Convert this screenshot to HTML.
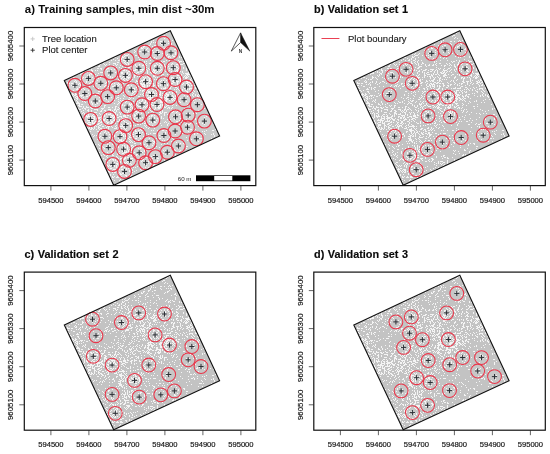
<!DOCTYPE html>
<html lang="en"><head><meta charset="utf-8"><title>Sampling design</title>
<style>
html,body{margin:0;padding:0;background:#fff}
svg{display:block;filter:blur(0.35px)}
text{font-family:"Liberation Sans",sans-serif}
.ax{font-size:7.6px;fill:#151515;stroke:#151515;stroke-width:0.18px}
.ay{font-size:7.85px;fill:#151515;stroke:#151515;stroke-width:0.18px}
.tt{font-size:10.6px;font-weight:bold;fill:#0a0a0a;stroke:#0a0a0a;stroke-width:0.15px;word-spacing:0.5px}
.ta{font-size:11.45px;font-weight:bold;fill:#0a0a0a}
.lg{font-size:9.5px;fill:#151515;stroke:#151515;stroke-width:0.1px}
</style></head><body>
<svg width="550" height="454" viewBox="0 0 550 454">
<rect width="550" height="454" fill="#fff"/>
<defs>
<filter id="sb" x="0" y="0" width="100%" height="100%"><feGaussianBlur stdDeviation="0.7"/></filter>
<g id="trees">
<path d="M167 30h1v1h-1zM168 31h1v1h-1zM169 31h1v1h-1zM162 32h1v1h-1zM163 32h1v1h-1zM167 32h1v1h-1zM166 33h1v1h-1zM172 33h1v1h-1zM160 34h1v1h-1zM163 35h1v1h-1zM164 35h1v1h-1zM162 36h1v1h-1zM153 37h1v1h-1zM154 37h1v1h-1zM165 37h1v1h-1zM149 38h1v1h-1zM153 38h1v1h-1zM164 38h1v1h-1zM167 38h1v1h-1zM148 39h1v1h-1zM176 39h1v1h-1zM145 40h1v1h-1zM146 40h1v1h-1zM150 40h1v1h-1zM153 40h1v1h-1zM169 40h1v1h-1zM172 40h1v1h-1zM176 40h1v1h-1zM146 41h1v1h-1zM148 41h1v1h-1zM151 41h1v1h-1zM160 41h1v1h-1zM161 41h1v1h-1zM164 41h1v1h-1zM168 41h1v1h-1zM170 41h1v1h-1zM142 42h1v1h-1zM143 42h1v1h-1zM144 42h1v1h-1zM145 42h1v1h-1zM151 42h1v1h-1zM153 42h1v1h-1zM155 42h1v1h-1zM176 42h1v1h-1zM138 43h1v1h-1zM142 43h1v1h-1zM150 43h1v1h-1zM160 43h1v1h-1zM166 43h1v1h-1zM168 43h1v1h-1zM170 43h1v1h-1zM171 43h1v1h-1zM144 44h1v1h-1zM150 44h1v1h-1zM161 44h1v1h-1zM171 44h1v1h-1zM177 44h1v1h-1zM135 45h1v1h-1zM148 45h1v1h-1zM149 45h1v1h-1zM154 45h1v1h-1zM155 45h1v1h-1zM169 45h1v1h-1zM143 46h1v1h-1zM144 46h1v1h-1zM148 46h1v1h-1zM152 46h1v1h-1zM167 46h1v1h-1zM168 46h1v1h-1zM135 47h1v1h-1zM141 47h1v1h-1zM143 47h1v1h-1zM165 47h1v1h-1zM167 47h1v1h-1zM178 47h1v1h-1zM141 48h1v1h-1zM142 48h1v1h-1zM147 48h1v1h-1zM154 48h1v1h-1zM164 48h1v1h-1zM175 48h1v1h-1zM126 49h1v1h-1zM138 49h1v1h-1zM146 49h1v1h-1zM174 49h1v1h-1zM175 49h1v1h-1zM128 50h1v1h-1zM134 50h1v1h-1zM145 50h1v1h-1zM152 50h1v1h-1zM156 50h1v1h-1zM157 50h1v1h-1zM158 50h1v1h-1zM171 50h1v1h-1zM176 50h1v1h-1zM135 51h1v1h-1zM139 51h1v1h-1zM140 51h1v1h-1zM147 51h1v1h-1zM148 51h1v1h-1zM179 51h1v1h-1zM121 52h1v1h-1zM123 52h1v1h-1zM134 52h1v1h-1zM145 52h1v1h-1zM153 52h1v1h-1zM158 52h1v1h-1zM175 52h1v1h-1zM117 53h1v1h-1zM121 53h1v1h-1zM125 53h1v1h-1zM129 53h1v1h-1zM138 53h1v1h-1zM159 53h1v1h-1zM162 53h1v1h-1zM175 53h1v1h-1zM116 54h1v1h-1zM117 54h1v1h-1zM119 54h1v1h-1zM122 54h1v1h-1zM124 54h1v1h-1zM128 54h1v1h-1zM145 54h1v1h-1zM159 54h1v1h-1zM167 54h1v1h-1zM175 54h1v1h-1zM115 55h1v1h-1zM117 55h1v1h-1zM125 55h1v1h-1zM126 55h1v1h-1zM127 55h1v1h-1zM132 55h1v1h-1zM135 55h1v1h-1zM136 55h1v1h-1zM138 55h1v1h-1zM150 55h1v1h-1zM156 55h1v1h-1zM166 55h1v1h-1zM170 55h1v1h-1zM172 55h1v1h-1zM111 56h1v1h-1zM115 56h1v1h-1zM122 56h1v1h-1zM124 56h1v1h-1zM140 56h1v1h-1zM165 56h1v1h-1zM168 56h1v1h-1zM169 56h1v1h-1zM173 56h1v1h-1zM174 56h1v1h-1zM179 56h1v1h-1zM108 57h1v1h-1zM112 57h1v1h-1zM113 57h1v1h-1zM114 57h1v1h-1zM115 57h1v1h-1zM122 57h1v1h-1zM123 57h1v1h-1zM128 57h1v1h-1zM138 57h1v1h-1zM147 57h1v1h-1zM150 57h1v1h-1zM154 57h1v1h-1zM168 57h1v1h-1zM170 57h1v1h-1zM179 57h1v1h-1zM181 57h1v1h-1zM117 58h1v1h-1zM121 58h1v1h-1zM125 58h1v1h-1zM143 58h1v1h-1zM145 58h1v1h-1zM153 58h1v1h-1zM156 58h1v1h-1zM183 58h1v1h-1zM113 59h1v1h-1zM119 59h1v1h-1zM121 59h1v1h-1zM125 59h1v1h-1zM139 59h1v1h-1zM142 59h1v1h-1zM145 59h1v1h-1zM174 59h1v1h-1zM183 59h1v1h-1zM111 60h1v1h-1zM115 60h1v1h-1zM118 60h1v1h-1zM119 60h1v1h-1zM123 60h1v1h-1zM124 60h1v1h-1zM128 60h1v1h-1zM131 60h1v1h-1zM150 60h1v1h-1zM157 60h1v1h-1zM166 60h1v1h-1zM169 60h1v1h-1zM178 60h1v1h-1zM121 61h1v1h-1zM125 61h1v1h-1zM127 61h1v1h-1zM144 61h1v1h-1zM146 61h1v1h-1zM161 61h1v1h-1zM163 61h1v1h-1zM164 61h1v1h-1zM169 61h1v1h-1zM176 61h1v1h-1zM179 61h1v1h-1zM180 61h1v1h-1zM181 61h1v1h-1zM183 61h1v1h-1zM185 61h1v1h-1zM98 62h1v1h-1zM99 62h1v1h-1zM104 62h1v1h-1zM109 62h1v1h-1zM117 62h1v1h-1zM118 62h1v1h-1zM121 62h1v1h-1zM124 62h1v1h-1zM127 62h1v1h-1zM132 62h1v1h-1zM144 62h1v1h-1zM162 62h1v1h-1zM168 62h1v1h-1zM179 62h1v1h-1zM103 63h1v1h-1zM113 63h1v1h-1zM114 63h1v1h-1zM115 63h1v1h-1zM121 63h1v1h-1zM122 63h1v1h-1zM125 63h1v1h-1zM128 63h1v1h-1zM132 63h1v1h-1zM133 63h1v1h-1zM146 63h1v1h-1zM149 63h1v1h-1zM150 63h1v1h-1zM156 63h1v1h-1zM159 63h1v1h-1zM168 63h1v1h-1zM172 63h1v1h-1zM178 63h1v1h-1zM183 63h1v1h-1zM184 63h1v1h-1zM97 64h1v1h-1zM100 64h1v1h-1zM104 64h1v1h-1zM106 64h1v1h-1zM109 64h1v1h-1zM115 64h1v1h-1zM117 64h1v1h-1zM126 64h1v1h-1zM128 64h1v1h-1zM131 64h1v1h-1zM135 64h1v1h-1zM139 64h1v1h-1zM143 64h1v1h-1zM145 64h1v1h-1zM157 64h1v1h-1zM160 64h1v1h-1zM164 64h1v1h-1zM167 64h1v1h-1zM168 64h1v1h-1zM171 64h1v1h-1zM176 64h1v1h-1zM177 64h1v1h-1zM180 64h1v1h-1zM181 64h1v1h-1zM182 64h1v1h-1zM94 65h1v1h-1zM95 65h1v1h-1zM99 65h1v1h-1zM105 65h1v1h-1zM113 65h1v1h-1zM116 65h1v1h-1zM120 65h1v1h-1zM128 65h1v1h-1zM135 65h1v1h-1zM138 65h1v1h-1zM139 65h1v1h-1zM142 65h1v1h-1zM143 65h1v1h-1zM146 65h1v1h-1zM151 65h1v1h-1zM154 65h1v1h-1zM155 65h1v1h-1zM159 65h1v1h-1zM161 65h1v1h-1zM164 65h1v1h-1zM167 65h1v1h-1zM186 65h1v1h-1zM90 66h1v1h-1zM95 66h1v1h-1zM98 66h1v1h-1zM99 66h1v1h-1zM107 66h1v1h-1zM122 66h1v1h-1zM129 66h1v1h-1zM130 66h1v1h-1zM131 66h1v1h-1zM136 66h1v1h-1zM154 66h1v1h-1zM164 66h1v1h-1zM165 66h1v1h-1zM168 66h1v1h-1zM172 66h1v1h-1zM176 66h1v1h-1zM89 67h1v1h-1zM91 67h1v1h-1zM116 67h1v1h-1zM119 67h1v1h-1zM125 67h1v1h-1zM128 67h1v1h-1zM129 67h1v1h-1zM146 67h1v1h-1zM160 67h1v1h-1zM165 67h1v1h-1zM172 67h1v1h-1zM176 67h1v1h-1zM177 67h1v1h-1zM183 67h1v1h-1zM188 67h1v1h-1zM88 68h1v1h-1zM91 68h1v1h-1zM97 68h1v1h-1zM98 68h1v1h-1zM100 68h1v1h-1zM101 68h1v1h-1zM107 68h1v1h-1zM108 68h1v1h-1zM115 68h1v1h-1zM121 68h1v1h-1zM127 68h1v1h-1zM128 68h1v1h-1zM148 68h1v1h-1zM150 68h1v1h-1zM154 68h1v1h-1zM158 68h1v1h-1zM159 68h1v1h-1zM166 68h1v1h-1zM169 68h1v1h-1zM171 68h1v1h-1zM174 68h1v1h-1zM178 68h1v1h-1zM183 68h1v1h-1zM186 68h1v1h-1zM188 68h1v1h-1zM83 69h1v1h-1zM86 69h1v1h-1zM87 69h1v1h-1zM89 69h1v1h-1zM91 69h1v1h-1zM101 69h1v1h-1zM106 69h1v1h-1zM111 69h1v1h-1zM114 69h1v1h-1zM122 69h1v1h-1zM124 69h1v1h-1zM131 69h1v1h-1zM135 69h1v1h-1zM136 69h1v1h-1zM140 69h1v1h-1zM141 69h1v1h-1zM142 69h1v1h-1zM143 69h1v1h-1zM146 69h1v1h-1zM149 69h1v1h-1zM153 69h1v1h-1zM157 69h1v1h-1zM161 69h1v1h-1zM164 69h1v1h-1zM166 69h1v1h-1zM171 69h1v1h-1zM177 69h1v1h-1zM186 69h1v1h-1zM81 70h1v1h-1zM83 70h1v1h-1zM86 70h1v1h-1zM91 70h1v1h-1zM92 70h1v1h-1zM95 70h1v1h-1zM97 70h1v1h-1zM120 70h1v1h-1zM123 70h1v1h-1zM124 70h1v1h-1zM126 70h1v1h-1zM129 70h1v1h-1zM133 70h1v1h-1zM134 70h1v1h-1zM135 70h1v1h-1zM138 70h1v1h-1zM142 70h1v1h-1zM145 70h1v1h-1zM147 70h1v1h-1zM153 70h1v1h-1zM154 70h1v1h-1zM155 70h1v1h-1zM156 70h1v1h-1zM160 70h1v1h-1zM164 70h1v1h-1zM169 70h1v1h-1zM176 70h1v1h-1zM177 70h1v1h-1zM186 70h1v1h-1zM189 70h1v1h-1zM79 71h1v1h-1zM82 71h1v1h-1zM83 71h1v1h-1zM85 71h1v1h-1zM87 71h1v1h-1zM92 71h1v1h-1zM107 71h1v1h-1zM117 71h1v1h-1zM128 71h1v1h-1zM129 71h1v1h-1zM132 71h1v1h-1zM140 71h1v1h-1zM141 71h1v1h-1zM144 71h1v1h-1zM147 71h1v1h-1zM152 71h1v1h-1zM154 71h1v1h-1zM157 71h1v1h-1zM159 71h1v1h-1zM165 71h1v1h-1zM168 71h1v1h-1zM171 71h1v1h-1zM175 71h1v1h-1zM177 71h1v1h-1zM178 71h1v1h-1zM180 71h1v1h-1zM182 71h1v1h-1zM76 72h1v1h-1zM82 72h1v1h-1zM83 72h1v1h-1zM87 72h1v1h-1zM89 72h1v1h-1zM92 72h1v1h-1zM100 72h1v1h-1zM101 72h1v1h-1zM102 72h1v1h-1zM115 72h1v1h-1zM117 72h1v1h-1zM121 72h1v1h-1zM122 72h1v1h-1zM127 72h1v1h-1zM132 72h1v1h-1zM134 72h1v1h-1zM137 72h1v1h-1zM138 72h1v1h-1zM144 72h1v1h-1zM147 72h1v1h-1zM150 72h1v1h-1zM151 72h1v1h-1zM153 72h1v1h-1zM154 72h1v1h-1zM156 72h1v1h-1zM161 72h1v1h-1zM182 72h1v1h-1zM188 72h1v1h-1zM189 72h1v1h-1zM191 72h1v1h-1zM74 73h1v1h-1zM79 73h1v1h-1zM80 73h1v1h-1zM81 73h1v1h-1zM82 73h1v1h-1zM83 73h1v1h-1zM90 73h1v1h-1zM91 73h1v1h-1zM98 73h1v1h-1zM103 73h1v1h-1zM117 73h1v1h-1zM121 73h1v1h-1zM122 73h1v1h-1zM127 73h1v1h-1zM134 73h1v1h-1zM136 73h1v1h-1zM143 73h1v1h-1zM147 73h1v1h-1zM151 73h1v1h-1zM152 73h1v1h-1zM153 73h1v1h-1zM155 73h1v1h-1zM176 73h1v1h-1zM177 73h1v1h-1zM183 73h1v1h-1zM185 73h1v1h-1zM186 73h1v1h-1zM187 73h1v1h-1zM188 73h1v1h-1zM191 73h1v1h-1zM73 74h1v1h-1zM74 74h1v1h-1zM77 74h1v1h-1zM78 74h1v1h-1zM80 74h1v1h-1zM89 74h1v1h-1zM91 74h1v1h-1zM95 74h1v1h-1zM123 74h1v1h-1zM129 74h1v1h-1zM134 74h1v1h-1zM137 74h1v1h-1zM138 74h1v1h-1zM139 74h1v1h-1zM141 74h1v1h-1zM143 74h1v1h-1zM145 74h1v1h-1zM146 74h1v1h-1zM148 74h1v1h-1zM154 74h1v1h-1zM155 74h1v1h-1zM158 74h1v1h-1zM162 74h1v1h-1zM163 74h1v1h-1zM167 74h1v1h-1zM169 74h1v1h-1zM171 74h1v1h-1zM173 74h1v1h-1zM176 74h1v1h-1zM181 74h1v1h-1zM186 74h1v1h-1zM187 74h1v1h-1zM188 74h1v1h-1zM189 74h1v1h-1zM71 75h1v1h-1zM87 75h1v1h-1zM89 75h1v1h-1zM97 75h1v1h-1zM101 75h1v1h-1zM108 75h1v1h-1zM126 75h1v1h-1zM128 75h1v1h-1zM134 75h1v1h-1zM135 75h1v1h-1zM141 75h1v1h-1zM142 75h1v1h-1zM149 75h1v1h-1zM153 75h1v1h-1zM154 75h1v1h-1zM155 75h1v1h-1zM156 75h1v1h-1zM161 75h1v1h-1zM169 75h1v1h-1zM173 75h1v1h-1zM177 75h1v1h-1zM178 75h1v1h-1zM180 75h1v1h-1zM181 75h1v1h-1zM185 75h1v1h-1zM187 75h1v1h-1zM190 75h1v1h-1zM70 76h1v1h-1zM82 76h1v1h-1zM88 76h1v1h-1zM95 76h1v1h-1zM110 76h1v1h-1zM115 76h1v1h-1zM117 76h1v1h-1zM119 76h1v1h-1zM120 76h1v1h-1zM123 76h1v1h-1zM127 76h1v1h-1zM134 76h1v1h-1zM137 76h1v1h-1zM139 76h1v1h-1zM140 76h1v1h-1zM142 76h1v1h-1zM147 76h1v1h-1zM153 76h1v1h-1zM154 76h1v1h-1zM165 76h1v1h-1zM181 76h1v1h-1zM184 76h1v1h-1zM186 76h1v1h-1zM188 76h1v1h-1zM73 77h1v1h-1zM74 77h1v1h-1zM82 77h1v1h-1zM83 77h1v1h-1zM85 77h1v1h-1zM92 77h1v1h-1zM100 77h1v1h-1zM105 77h1v1h-1zM110 77h1v1h-1zM112 77h1v1h-1zM122 77h1v1h-1zM127 77h1v1h-1zM128 77h1v1h-1zM129 77h1v1h-1zM132 77h1v1h-1zM134 77h1v1h-1zM140 77h1v1h-1zM143 77h1v1h-1zM145 77h1v1h-1zM148 77h1v1h-1zM150 77h1v1h-1zM155 77h1v1h-1zM157 77h1v1h-1zM159 77h1v1h-1zM164 77h1v1h-1zM165 77h1v1h-1zM171 77h1v1h-1zM172 77h1v1h-1zM174 77h1v1h-1zM177 77h1v1h-1zM179 77h1v1h-1zM183 77h1v1h-1zM185 77h1v1h-1zM186 77h1v1h-1zM187 77h1v1h-1zM191 77h1v1h-1zM71 78h1v1h-1zM76 78h1v1h-1zM82 78h1v1h-1zM86 78h1v1h-1zM94 78h1v1h-1zM98 78h1v1h-1zM121 78h1v1h-1zM124 78h1v1h-1zM128 78h1v1h-1zM140 78h1v1h-1zM144 78h1v1h-1zM149 78h1v1h-1zM150 78h1v1h-1zM164 78h1v1h-1zM171 78h1v1h-1zM173 78h1v1h-1zM174 78h1v1h-1zM180 78h1v1h-1zM185 78h1v1h-1zM186 78h1v1h-1zM191 78h1v1h-1zM193 78h1v1h-1zM78 79h1v1h-1zM80 79h1v1h-1zM81 79h1v1h-1zM87 79h1v1h-1zM95 79h1v1h-1zM109 79h1v1h-1zM118 79h1v1h-1zM120 79h1v1h-1zM123 79h1v1h-1zM126 79h1v1h-1zM130 79h1v1h-1zM132 79h1v1h-1zM143 79h1v1h-1zM144 79h1v1h-1zM149 79h1v1h-1zM152 79h1v1h-1zM154 79h1v1h-1zM156 79h1v1h-1zM167 79h1v1h-1zM173 79h1v1h-1zM180 79h1v1h-1zM190 79h1v1h-1zM192 79h1v1h-1zM194 79h1v1h-1zM69 80h1v1h-1zM75 80h1v1h-1zM97 80h1v1h-1zM119 80h1v1h-1zM124 80h1v1h-1zM127 80h1v1h-1zM128 80h1v1h-1zM129 80h1v1h-1zM130 80h1v1h-1zM136 80h1v1h-1zM139 80h1v1h-1zM141 80h1v1h-1zM142 80h1v1h-1zM143 80h1v1h-1zM147 80h1v1h-1zM149 80h1v1h-1zM150 80h1v1h-1zM161 80h1v1h-1zM163 80h1v1h-1zM166 80h1v1h-1zM173 80h1v1h-1zM180 80h1v1h-1zM182 80h1v1h-1zM188 80h1v1h-1zM190 80h1v1h-1zM191 80h1v1h-1zM195 80h1v1h-1zM74 81h1v1h-1zM76 81h1v1h-1zM82 81h1v1h-1zM86 81h1v1h-1zM92 81h1v1h-1zM93 81h1v1h-1zM108 81h1v1h-1zM118 81h1v1h-1zM119 81h1v1h-1zM123 81h1v1h-1zM127 81h1v1h-1zM130 81h1v1h-1zM136 81h1v1h-1zM137 81h1v1h-1zM140 81h1v1h-1zM142 81h1v1h-1zM143 81h1v1h-1zM149 81h1v1h-1zM151 81h1v1h-1zM160 81h1v1h-1zM163 81h1v1h-1zM172 81h1v1h-1zM173 81h1v1h-1zM176 81h1v1h-1zM177 81h1v1h-1zM178 81h1v1h-1zM180 81h1v1h-1zM186 81h1v1h-1zM187 81h1v1h-1zM189 81h1v1h-1zM192 81h1v1h-1zM194 81h1v1h-1zM63 82h1v1h-1zM67 82h1v1h-1zM75 82h1v1h-1zM76 82h1v1h-1zM80 82h1v1h-1zM82 82h1v1h-1zM86 82h1v1h-1zM90 82h1v1h-1zM94 82h1v1h-1zM106 82h1v1h-1zM107 82h1v1h-1zM122 82h1v1h-1zM127 82h1v1h-1zM131 82h1v1h-1zM132 82h1v1h-1zM135 82h1v1h-1zM144 82h1v1h-1zM145 82h1v1h-1zM147 82h1v1h-1zM148 82h1v1h-1zM157 82h1v1h-1zM164 82h1v1h-1zM173 82h1v1h-1zM174 82h1v1h-1zM177 82h1v1h-1zM181 82h1v1h-1zM187 82h1v1h-1zM188 82h1v1h-1zM189 82h1v1h-1zM191 82h1v1h-1zM192 82h1v1h-1zM67 83h1v1h-1zM68 83h1v1h-1zM69 83h1v1h-1zM71 83h1v1h-1zM72 83h1v1h-1zM79 83h1v1h-1zM85 83h1v1h-1zM89 83h1v1h-1zM96 83h1v1h-1zM105 83h1v1h-1zM111 83h1v1h-1zM112 83h1v1h-1zM114 83h1v1h-1zM118 83h1v1h-1zM123 83h1v1h-1zM129 83h1v1h-1zM130 83h1v1h-1zM131 83h1v1h-1zM137 83h1v1h-1zM140 83h1v1h-1zM141 83h1v1h-1zM143 83h1v1h-1zM146 83h1v1h-1zM147 83h1v1h-1zM149 83h1v1h-1zM150 83h1v1h-1zM152 83h1v1h-1zM153 83h1v1h-1zM158 83h1v1h-1zM165 83h1v1h-1zM169 83h1v1h-1zM171 83h1v1h-1zM172 83h1v1h-1zM177 83h1v1h-1zM180 83h1v1h-1zM183 83h1v1h-1zM186 83h1v1h-1zM187 83h1v1h-1zM190 83h1v1h-1zM194 83h1v1h-1zM76 84h1v1h-1zM78 84h1v1h-1zM80 84h1v1h-1zM87 84h1v1h-1zM107 84h1v1h-1zM111 84h1v1h-1zM117 84h1v1h-1zM119 84h1v1h-1zM121 84h1v1h-1zM122 84h1v1h-1zM126 84h1v1h-1zM127 84h1v1h-1zM128 84h1v1h-1zM136 84h1v1h-1zM139 84h1v1h-1zM141 84h1v1h-1zM142 84h1v1h-1zM143 84h1v1h-1zM144 84h1v1h-1zM153 84h1v1h-1zM160 84h1v1h-1zM161 84h1v1h-1zM164 84h1v1h-1zM167 84h1v1h-1zM171 84h1v1h-1zM177 84h1v1h-1zM182 84h1v1h-1zM188 84h1v1h-1zM192 84h1v1h-1zM197 84h1v1h-1zM67 85h1v1h-1zM68 85h1v1h-1zM71 85h1v1h-1zM80 85h1v1h-1zM101 85h1v1h-1zM105 85h1v1h-1zM106 85h1v1h-1zM109 85h1v1h-1zM114 85h1v1h-1zM115 85h1v1h-1zM118 85h1v1h-1zM125 85h1v1h-1zM126 85h1v1h-1zM127 85h1v1h-1zM128 85h1v1h-1zM131 85h1v1h-1zM136 85h1v1h-1zM139 85h1v1h-1zM140 85h1v1h-1zM142 85h1v1h-1zM144 85h1v1h-1zM147 85h1v1h-1zM149 85h1v1h-1zM153 85h1v1h-1zM154 85h1v1h-1zM157 85h1v1h-1zM158 85h1v1h-1zM160 85h1v1h-1zM167 85h1v1h-1zM169 85h1v1h-1zM175 85h1v1h-1zM179 85h1v1h-1zM189 85h1v1h-1zM191 85h1v1h-1zM192 85h1v1h-1zM194 85h1v1h-1zM66 86h1v1h-1zM73 86h1v1h-1zM74 86h1v1h-1zM89 86h1v1h-1zM93 86h1v1h-1zM100 86h1v1h-1zM104 86h1v1h-1zM106 86h1v1h-1zM108 86h1v1h-1zM112 86h1v1h-1zM113 86h1v1h-1zM122 86h1v1h-1zM125 86h1v1h-1zM137 86h1v1h-1zM138 86h1v1h-1zM140 86h1v1h-1zM142 86h1v1h-1zM143 86h1v1h-1zM144 86h1v1h-1zM147 86h1v1h-1zM149 86h1v1h-1zM150 86h1v1h-1zM153 86h1v1h-1zM158 86h1v1h-1zM171 86h1v1h-1zM172 86h1v1h-1zM189 86h1v1h-1zM197 86h1v1h-1zM68 87h1v1h-1zM79 87h1v1h-1zM81 87h1v1h-1zM84 87h1v1h-1zM85 87h1v1h-1zM116 87h1v1h-1zM121 87h1v1h-1zM129 87h1v1h-1zM136 87h1v1h-1zM140 87h1v1h-1zM144 87h1v1h-1zM149 87h1v1h-1zM156 87h1v1h-1zM157 87h1v1h-1zM165 87h1v1h-1zM170 87h1v1h-1zM175 87h1v1h-1zM176 87h1v1h-1zM183 87h1v1h-1zM186 87h1v1h-1zM195 87h1v1h-1zM198 87h1v1h-1zM66 88h1v1h-1zM69 88h1v1h-1zM77 88h1v1h-1zM81 88h1v1h-1zM83 88h1v1h-1zM98 88h1v1h-1zM110 88h1v1h-1zM123 88h1v1h-1zM133 88h1v1h-1zM134 88h1v1h-1zM137 88h1v1h-1zM141 88h1v1h-1zM143 88h1v1h-1zM148 88h1v1h-1zM149 88h1v1h-1zM152 88h1v1h-1zM161 88h1v1h-1zM163 88h1v1h-1zM164 88h1v1h-1zM165 88h1v1h-1zM167 88h1v1h-1zM168 88h1v1h-1zM169 88h1v1h-1zM170 88h1v1h-1zM177 88h1v1h-1zM180 88h1v1h-1zM184 88h1v1h-1zM189 88h1v1h-1zM190 88h1v1h-1zM191 88h1v1h-1zM192 88h1v1h-1zM195 88h1v1h-1zM196 88h1v1h-1zM197 88h1v1h-1zM76 89h1v1h-1zM77 89h1v1h-1zM78 89h1v1h-1zM81 89h1v1h-1zM84 89h1v1h-1zM101 89h1v1h-1zM105 89h1v1h-1zM129 89h1v1h-1zM134 89h1v1h-1zM137 89h1v1h-1zM144 89h1v1h-1zM146 89h1v1h-1zM147 89h1v1h-1zM148 89h1v1h-1zM152 89h1v1h-1zM155 89h1v1h-1zM158 89h1v1h-1zM174 89h1v1h-1zM176 89h1v1h-1zM178 89h1v1h-1zM182 89h1v1h-1zM187 89h1v1h-1zM189 89h1v1h-1zM192 89h1v1h-1zM199 89h1v1h-1zM67 90h1v1h-1zM69 90h1v1h-1zM70 90h1v1h-1zM73 90h1v1h-1zM88 90h1v1h-1zM122 90h1v1h-1zM124 90h1v1h-1zM140 90h1v1h-1zM142 90h1v1h-1zM143 90h1v1h-1zM145 90h1v1h-1zM147 90h1v1h-1zM155 90h1v1h-1zM156 90h1v1h-1zM161 90h1v1h-1zM166 90h1v1h-1zM167 90h1v1h-1zM168 90h1v1h-1zM170 90h1v1h-1zM172 90h1v1h-1zM179 90h1v1h-1zM182 90h1v1h-1zM185 90h1v1h-1zM193 90h1v1h-1zM199 90h1v1h-1zM67 91h1v1h-1zM68 91h1v1h-1zM71 91h1v1h-1zM77 91h1v1h-1zM78 91h1v1h-1zM85 91h1v1h-1zM98 91h1v1h-1zM99 91h1v1h-1zM101 91h1v1h-1zM115 91h1v1h-1zM116 91h1v1h-1zM121 91h1v1h-1zM124 91h1v1h-1zM128 91h1v1h-1zM132 91h1v1h-1zM134 91h1v1h-1zM135 91h1v1h-1zM137 91h1v1h-1zM138 91h1v1h-1zM142 91h1v1h-1zM144 91h1v1h-1zM148 91h1v1h-1zM149 91h1v1h-1zM153 91h1v1h-1zM156 91h1v1h-1zM160 91h1v1h-1zM164 91h1v1h-1zM166 91h1v1h-1zM171 91h1v1h-1zM174 91h1v1h-1zM176 91h1v1h-1zM186 91h1v1h-1zM187 91h1v1h-1zM191 91h1v1h-1zM194 91h1v1h-1zM197 91h1v1h-1zM198 91h1v1h-1zM69 92h1v1h-1zM78 92h1v1h-1zM123 92h1v1h-1zM125 92h1v1h-1zM133 92h1v1h-1zM146 92h1v1h-1zM148 92h1v1h-1zM149 92h1v1h-1zM150 92h1v1h-1zM153 92h1v1h-1zM157 92h1v1h-1zM160 92h1v1h-1zM165 92h1v1h-1zM166 92h1v1h-1zM169 92h1v1h-1zM172 92h1v1h-1zM175 92h1v1h-1zM176 92h1v1h-1zM187 92h1v1h-1zM192 92h1v1h-1zM198 92h1v1h-1zM69 93h1v1h-1zM72 93h1v1h-1zM75 93h1v1h-1zM79 93h1v1h-1zM88 93h1v1h-1zM93 93h1v1h-1zM96 93h1v1h-1zM97 93h1v1h-1zM98 93h1v1h-1zM118 93h1v1h-1zM121 93h1v1h-1zM132 93h1v1h-1zM137 93h1v1h-1zM143 93h1v1h-1zM144 93h1v1h-1zM150 93h1v1h-1zM151 93h1v1h-1zM154 93h1v1h-1zM156 93h1v1h-1zM158 93h1v1h-1zM160 93h1v1h-1zM162 93h1v1h-1zM165 93h1v1h-1zM166 93h1v1h-1zM172 93h1v1h-1zM182 93h1v1h-1zM184 93h1v1h-1zM193 93h1v1h-1zM69 94h1v1h-1zM70 94h1v1h-1zM71 94h1v1h-1zM72 94h1v1h-1zM73 94h1v1h-1zM75 94h1v1h-1zM76 94h1v1h-1zM90 94h1v1h-1zM114 94h1v1h-1zM125 94h1v1h-1zM134 94h1v1h-1zM140 94h1v1h-1zM142 94h1v1h-1zM144 94h1v1h-1zM149 94h1v1h-1zM151 94h1v1h-1zM159 94h1v1h-1zM160 94h1v1h-1zM163 94h1v1h-1zM164 94h1v1h-1zM166 94h1v1h-1zM167 94h1v1h-1zM168 94h1v1h-1zM170 94h1v1h-1zM176 94h1v1h-1zM178 94h1v1h-1zM179 94h1v1h-1zM192 94h1v1h-1zM195 94h1v1h-1zM198 94h1v1h-1zM201 94h1v1h-1zM69 95h1v1h-1zM70 95h1v1h-1zM71 95h1v1h-1zM72 95h1v1h-1zM74 95h1v1h-1zM75 95h1v1h-1zM80 95h1v1h-1zM81 95h1v1h-1zM82 95h1v1h-1zM84 95h1v1h-1zM89 95h1v1h-1zM95 95h1v1h-1zM114 95h1v1h-1zM118 95h1v1h-1zM123 95h1v1h-1zM131 95h1v1h-1zM136 95h1v1h-1zM143 95h1v1h-1zM145 95h1v1h-1zM147 95h1v1h-1zM150 95h1v1h-1zM154 95h1v1h-1zM156 95h1v1h-1zM160 95h1v1h-1zM162 95h1v1h-1zM165 95h1v1h-1zM167 95h1v1h-1zM168 95h1v1h-1zM169 95h1v1h-1zM172 95h1v1h-1zM175 95h1v1h-1zM176 95h1v1h-1zM184 95h1v1h-1zM190 95h1v1h-1zM192 95h1v1h-1zM195 95h1v1h-1zM197 95h1v1h-1zM199 95h1v1h-1zM202 95h1v1h-1zM70 96h1v1h-1zM71 96h1v1h-1zM73 96h1v1h-1zM76 96h1v1h-1zM77 96h1v1h-1zM79 96h1v1h-1zM81 96h1v1h-1zM86 96h1v1h-1zM87 96h1v1h-1zM100 96h1v1h-1zM124 96h1v1h-1zM132 96h1v1h-1zM134 96h1v1h-1zM138 96h1v1h-1zM139 96h1v1h-1zM150 96h1v1h-1zM157 96h1v1h-1zM163 96h1v1h-1zM166 96h1v1h-1zM167 96h1v1h-1zM172 96h1v1h-1zM173 96h1v1h-1zM175 96h1v1h-1zM177 96h1v1h-1zM178 96h1v1h-1zM187 96h1v1h-1zM190 96h1v1h-1zM193 96h1v1h-1zM197 96h1v1h-1zM198 96h1v1h-1zM70 97h1v1h-1zM72 97h1v1h-1zM75 97h1v1h-1zM77 97h1v1h-1zM83 97h1v1h-1zM99 97h1v1h-1zM111 97h1v1h-1zM117 97h1v1h-1zM118 97h1v1h-1zM129 97h1v1h-1zM131 97h1v1h-1zM148 97h1v1h-1zM149 97h1v1h-1zM150 97h1v1h-1zM151 97h1v1h-1zM152 97h1v1h-1zM160 97h1v1h-1zM161 97h1v1h-1zM162 97h1v1h-1zM164 97h1v1h-1zM166 97h1v1h-1zM168 97h1v1h-1zM169 97h1v1h-1zM173 97h1v1h-1zM178 97h1v1h-1zM198 97h1v1h-1zM76 98h1v1h-1zM77 98h1v1h-1zM79 98h1v1h-1zM81 98h1v1h-1zM104 98h1v1h-1zM113 98h1v1h-1zM116 98h1v1h-1zM120 98h1v1h-1zM123 98h1v1h-1zM130 98h1v1h-1zM133 98h1v1h-1zM147 98h1v1h-1zM148 98h1v1h-1zM150 98h1v1h-1zM153 98h1v1h-1zM156 98h1v1h-1zM159 98h1v1h-1zM160 98h1v1h-1zM161 98h1v1h-1zM165 98h1v1h-1zM166 98h1v1h-1zM167 98h1v1h-1zM169 98h1v1h-1zM170 98h1v1h-1zM172 98h1v1h-1zM174 98h1v1h-1zM175 98h1v1h-1zM180 98h1v1h-1zM72 99h1v1h-1zM73 99h1v1h-1zM74 99h1v1h-1zM77 99h1v1h-1zM85 99h1v1h-1zM106 99h1v1h-1zM118 99h1v1h-1zM128 99h1v1h-1zM129 99h1v1h-1zM137 99h1v1h-1zM142 99h1v1h-1zM148 99h1v1h-1zM149 99h1v1h-1zM150 99h1v1h-1zM151 99h1v1h-1zM154 99h1v1h-1zM159 99h1v1h-1zM160 99h1v1h-1zM163 99h1v1h-1zM166 99h1v1h-1zM167 99h1v1h-1zM170 99h1v1h-1zM171 99h1v1h-1zM173 99h1v1h-1zM195 99h1v1h-1zM199 99h1v1h-1zM72 100h1v1h-1zM74 100h1v1h-1zM76 100h1v1h-1zM83 100h1v1h-1zM85 100h1v1h-1zM95 100h1v1h-1zM99 100h1v1h-1zM114 100h1v1h-1zM120 100h1v1h-1zM122 100h1v1h-1zM123 100h1v1h-1zM136 100h1v1h-1zM139 100h1v1h-1zM142 100h1v1h-1zM145 100h1v1h-1zM147 100h1v1h-1zM148 100h1v1h-1zM149 100h1v1h-1zM151 100h1v1h-1zM152 100h1v1h-1zM153 100h1v1h-1zM156 100h1v1h-1zM160 100h1v1h-1zM165 100h1v1h-1zM166 100h1v1h-1zM169 100h1v1h-1zM172 100h1v1h-1zM174 100h1v1h-1zM186 100h1v1h-1zM193 100h1v1h-1zM74 101h1v1h-1zM77 101h1v1h-1zM82 101h1v1h-1zM84 101h1v1h-1zM91 101h1v1h-1zM99 101h1v1h-1zM101 101h1v1h-1zM108 101h1v1h-1zM112 101h1v1h-1zM118 101h1v1h-1zM121 101h1v1h-1zM122 101h1v1h-1zM126 101h1v1h-1zM130 101h1v1h-1zM133 101h1v1h-1zM135 101h1v1h-1zM137 101h1v1h-1zM141 101h1v1h-1zM145 101h1v1h-1zM148 101h1v1h-1zM151 101h1v1h-1zM152 101h1v1h-1zM160 101h1v1h-1zM161 101h1v1h-1zM162 101h1v1h-1zM163 101h1v1h-1zM164 101h1v1h-1zM166 101h1v1h-1zM175 101h1v1h-1zM179 101h1v1h-1zM184 101h1v1h-1zM186 101h1v1h-1zM77 102h1v1h-1zM78 102h1v1h-1zM85 102h1v1h-1zM91 102h1v1h-1zM104 102h1v1h-1zM109 102h1v1h-1zM110 102h1v1h-1zM112 102h1v1h-1zM119 102h1v1h-1zM125 102h1v1h-1zM132 102h1v1h-1zM139 102h1v1h-1zM144 102h1v1h-1zM145 102h1v1h-1zM147 102h1v1h-1zM148 102h1v1h-1zM152 102h1v1h-1zM154 102h1v1h-1zM156 102h1v1h-1zM157 102h1v1h-1zM160 102h1v1h-1zM161 102h1v1h-1zM162 102h1v1h-1zM163 102h1v1h-1zM164 102h1v1h-1zM180 102h1v1h-1zM191 102h1v1h-1zM194 102h1v1h-1zM76 103h1v1h-1zM77 103h1v1h-1zM78 103h1v1h-1zM79 103h1v1h-1zM88 103h1v1h-1zM92 103h1v1h-1zM97 103h1v1h-1zM105 103h1v1h-1zM107 103h1v1h-1zM114 103h1v1h-1zM118 103h1v1h-1zM120 103h1v1h-1zM121 103h1v1h-1zM129 103h1v1h-1zM131 103h1v1h-1zM133 103h1v1h-1zM136 103h1v1h-1zM140 103h1v1h-1zM144 103h1v1h-1zM147 103h1v1h-1zM148 103h1v1h-1zM150 103h1v1h-1zM156 103h1v1h-1zM157 103h1v1h-1zM165 103h1v1h-1zM166 103h1v1h-1zM167 103h1v1h-1zM172 103h1v1h-1zM178 103h1v1h-1zM203 103h1v1h-1zM206 103h1v1h-1zM79 104h1v1h-1zM81 104h1v1h-1zM82 104h1v1h-1zM88 104h1v1h-1zM89 104h1v1h-1zM92 104h1v1h-1zM95 104h1v1h-1zM117 104h1v1h-1zM122 104h1v1h-1zM129 104h1v1h-1zM130 104h1v1h-1zM131 104h1v1h-1zM136 104h1v1h-1zM148 104h1v1h-1zM149 104h1v1h-1zM150 104h1v1h-1zM151 104h1v1h-1zM156 104h1v1h-1zM157 104h1v1h-1zM158 104h1v1h-1zM159 104h1v1h-1zM160 104h1v1h-1zM162 104h1v1h-1zM166 104h1v1h-1zM173 104h1v1h-1zM187 104h1v1h-1zM201 104h1v1h-1zM78 105h1v1h-1zM79 105h1v1h-1zM90 105h1v1h-1zM99 105h1v1h-1zM101 105h1v1h-1zM104 105h1v1h-1zM105 105h1v1h-1zM122 105h1v1h-1zM124 105h1v1h-1zM127 105h1v1h-1zM130 105h1v1h-1zM134 105h1v1h-1zM135 105h1v1h-1zM137 105h1v1h-1zM142 105h1v1h-1zM143 105h1v1h-1zM147 105h1v1h-1zM149 105h1v1h-1zM152 105h1v1h-1zM153 105h1v1h-1zM155 105h1v1h-1zM156 105h1v1h-1zM159 105h1v1h-1zM160 105h1v1h-1zM162 105h1v1h-1zM167 105h1v1h-1zM168 105h1v1h-1zM172 105h1v1h-1zM176 105h1v1h-1zM205 105h1v1h-1zM79 106h1v1h-1zM80 106h1v1h-1zM81 106h1v1h-1zM83 106h1v1h-1zM86 106h1v1h-1zM95 106h1v1h-1zM100 106h1v1h-1zM104 106h1v1h-1zM115 106h1v1h-1zM116 106h1v1h-1zM124 106h1v1h-1zM127 106h1v1h-1zM131 106h1v1h-1zM133 106h1v1h-1zM138 106h1v1h-1zM139 106h1v1h-1zM140 106h1v1h-1zM144 106h1v1h-1zM146 106h1v1h-1zM148 106h1v1h-1zM158 106h1v1h-1zM160 106h1v1h-1zM164 106h1v1h-1zM166 106h1v1h-1zM183 106h1v1h-1zM184 106h1v1h-1zM187 106h1v1h-1zM206 106h1v1h-1zM83 107h1v1h-1zM86 107h1v1h-1zM87 107h1v1h-1zM88 107h1v1h-1zM90 107h1v1h-1zM91 107h1v1h-1zM93 107h1v1h-1zM96 107h1v1h-1zM97 107h1v1h-1zM104 107h1v1h-1zM108 107h1v1h-1zM109 107h1v1h-1zM112 107h1v1h-1zM115 107h1v1h-1zM118 107h1v1h-1zM125 107h1v1h-1zM126 107h1v1h-1zM130 107h1v1h-1zM132 107h1v1h-1zM143 107h1v1h-1zM145 107h1v1h-1zM147 107h1v1h-1zM148 107h1v1h-1zM149 107h1v1h-1zM155 107h1v1h-1zM157 107h1v1h-1zM158 107h1v1h-1zM159 107h1v1h-1zM160 107h1v1h-1zM164 107h1v1h-1zM165 107h1v1h-1zM168 107h1v1h-1zM169 107h1v1h-1zM172 107h1v1h-1zM78 108h1v1h-1zM82 108h1v1h-1zM84 108h1v1h-1zM85 108h1v1h-1zM91 108h1v1h-1zM92 108h1v1h-1zM101 108h1v1h-1zM102 108h1v1h-1zM103 108h1v1h-1zM115 108h1v1h-1zM119 108h1v1h-1zM128 108h1v1h-1zM132 108h1v1h-1zM135 108h1v1h-1zM140 108h1v1h-1zM147 108h1v1h-1zM148 108h1v1h-1zM150 108h1v1h-1zM151 108h1v1h-1zM155 108h1v1h-1zM158 108h1v1h-1zM159 108h1v1h-1zM167 108h1v1h-1zM169 108h1v1h-1zM171 108h1v1h-1zM184 108h1v1h-1zM202 108h1v1h-1zM204 108h1v1h-1zM77 109h1v1h-1zM78 109h1v1h-1zM79 109h1v1h-1zM80 109h1v1h-1zM85 109h1v1h-1zM88 109h1v1h-1zM94 109h1v1h-1zM95 109h1v1h-1zM96 109h1v1h-1zM97 109h1v1h-1zM102 109h1v1h-1zM108 109h1v1h-1zM109 109h1v1h-1zM110 109h1v1h-1zM114 109h1v1h-1zM115 109h1v1h-1zM117 109h1v1h-1zM118 109h1v1h-1zM120 109h1v1h-1zM125 109h1v1h-1zM130 109h1v1h-1zM133 109h1v1h-1zM134 109h1v1h-1zM149 109h1v1h-1zM154 109h1v1h-1zM174 109h1v1h-1zM176 109h1v1h-1zM190 109h1v1h-1zM202 109h1v1h-1zM77 110h1v1h-1zM78 110h1v1h-1zM83 110h1v1h-1zM87 110h1v1h-1zM88 110h1v1h-1zM91 110h1v1h-1zM97 110h1v1h-1zM101 110h1v1h-1zM104 110h1v1h-1zM105 110h1v1h-1zM110 110h1v1h-1zM112 110h1v1h-1zM114 110h1v1h-1zM116 110h1v1h-1zM121 110h1v1h-1zM126 110h1v1h-1zM128 110h1v1h-1zM141 110h1v1h-1zM144 110h1v1h-1zM150 110h1v1h-1zM154 110h1v1h-1zM160 110h1v1h-1zM162 110h1v1h-1zM171 110h1v1h-1zM173 110h1v1h-1zM192 110h1v1h-1zM198 110h1v1h-1zM79 111h1v1h-1zM81 111h1v1h-1zM88 111h1v1h-1zM91 111h1v1h-1zM100 111h1v1h-1zM101 111h1v1h-1zM105 111h1v1h-1zM106 111h1v1h-1zM111 111h1v1h-1zM113 111h1v1h-1zM116 111h1v1h-1zM128 111h1v1h-1zM135 111h1v1h-1zM136 111h1v1h-1zM138 111h1v1h-1zM151 111h1v1h-1zM152 111h1v1h-1zM156 111h1v1h-1zM158 111h1v1h-1zM160 111h1v1h-1zM162 111h1v1h-1zM173 111h1v1h-1zM177 111h1v1h-1zM195 111h1v1h-1zM83 112h1v1h-1zM88 112h1v1h-1zM94 112h1v1h-1zM95 112h1v1h-1zM96 112h1v1h-1zM104 112h1v1h-1zM105 112h1v1h-1zM112 112h1v1h-1zM114 112h1v1h-1zM115 112h1v1h-1zM119 112h1v1h-1zM121 112h1v1h-1zM123 112h1v1h-1zM127 112h1v1h-1zM131 112h1v1h-1zM132 112h1v1h-1zM137 112h1v1h-1zM138 112h1v1h-1zM141 112h1v1h-1zM148 112h1v1h-1zM153 112h1v1h-1zM159 112h1v1h-1zM160 112h1v1h-1zM162 112h1v1h-1zM164 112h1v1h-1zM165 112h1v1h-1zM166 112h1v1h-1zM172 112h1v1h-1zM176 112h1v1h-1zM181 112h1v1h-1zM79 113h1v1h-1zM80 113h1v1h-1zM82 113h1v1h-1zM84 113h1v1h-1zM86 113h1v1h-1zM87 113h1v1h-1zM99 113h1v1h-1zM104 113h1v1h-1zM105 113h1v1h-1zM106 113h1v1h-1zM110 113h1v1h-1zM115 113h1v1h-1zM120 113h1v1h-1zM124 113h1v1h-1zM130 113h1v1h-1zM136 113h1v1h-1zM138 113h1v1h-1zM141 113h1v1h-1zM144 113h1v1h-1zM150 113h1v1h-1zM153 113h1v1h-1zM160 113h1v1h-1zM161 113h1v1h-1zM164 113h1v1h-1zM186 113h1v1h-1zM189 113h1v1h-1zM193 113h1v1h-1zM196 113h1v1h-1zM78 114h1v1h-1zM84 114h1v1h-1zM88 114h1v1h-1zM93 114h1v1h-1zM94 114h1v1h-1zM96 114h1v1h-1zM100 114h1v1h-1zM104 114h1v1h-1zM106 114h1v1h-1zM108 114h1v1h-1zM109 114h1v1h-1zM110 114h1v1h-1zM115 114h1v1h-1zM117 114h1v1h-1zM120 114h1v1h-1zM124 114h1v1h-1zM127 114h1v1h-1zM134 114h1v1h-1zM159 114h1v1h-1zM164 114h1v1h-1zM167 114h1v1h-1zM179 114h1v1h-1zM190 114h1v1h-1zM203 114h1v1h-1zM204 114h1v1h-1zM84 115h1v1h-1zM86 115h1v1h-1zM88 115h1v1h-1zM92 115h1v1h-1zM97 115h1v1h-1zM102 115h1v1h-1zM104 115h1v1h-1zM111 115h1v1h-1zM112 115h1v1h-1zM113 115h1v1h-1zM114 115h1v1h-1zM117 115h1v1h-1zM123 115h1v1h-1zM124 115h1v1h-1zM125 115h1v1h-1zM127 115h1v1h-1zM128 115h1v1h-1zM131 115h1v1h-1zM132 115h1v1h-1zM134 115h1v1h-1zM135 115h1v1h-1zM136 115h1v1h-1zM139 115h1v1h-1zM145 115h1v1h-1zM146 115h1v1h-1zM151 115h1v1h-1zM152 115h1v1h-1zM154 115h1v1h-1zM164 115h1v1h-1zM175 115h1v1h-1zM84 116h1v1h-1zM86 116h1v1h-1zM87 116h1v1h-1zM88 116h1v1h-1zM89 116h1v1h-1zM91 116h1v1h-1zM93 116h1v1h-1zM94 116h1v1h-1zM96 116h1v1h-1zM97 116h1v1h-1zM101 116h1v1h-1zM102 116h1v1h-1zM104 116h1v1h-1zM108 116h1v1h-1zM109 116h1v1h-1zM112 116h1v1h-1zM114 116h1v1h-1zM119 116h1v1h-1zM120 116h1v1h-1zM121 116h1v1h-1zM123 116h1v1h-1zM124 116h1v1h-1zM125 116h1v1h-1zM130 116h1v1h-1zM131 116h1v1h-1zM134 116h1v1h-1zM139 116h1v1h-1zM140 116h1v1h-1zM149 116h1v1h-1zM151 116h1v1h-1zM158 116h1v1h-1zM161 116h1v1h-1zM172 116h1v1h-1zM206 116h1v1h-1zM82 117h1v1h-1zM84 117h1v1h-1zM87 117h1v1h-1zM91 117h1v1h-1zM94 117h1v1h-1zM97 117h1v1h-1zM98 117h1v1h-1zM99 117h1v1h-1zM100 117h1v1h-1zM101 117h1v1h-1zM108 117h1v1h-1zM110 117h1v1h-1zM111 117h1v1h-1zM113 117h1v1h-1zM114 117h1v1h-1zM117 117h1v1h-1zM118 117h1v1h-1zM121 117h1v1h-1zM125 117h1v1h-1zM126 117h1v1h-1zM127 117h1v1h-1zM131 117h1v1h-1zM142 117h1v1h-1zM154 117h1v1h-1zM159 117h1v1h-1zM161 117h1v1h-1zM169 117h1v1h-1zM174 117h1v1h-1zM189 117h1v1h-1zM204 117h1v1h-1zM83 118h1v1h-1zM91 118h1v1h-1zM92 118h1v1h-1zM93 118h1v1h-1zM94 118h1v1h-1zM96 118h1v1h-1zM97 118h1v1h-1zM98 118h1v1h-1zM99 118h1v1h-1zM101 118h1v1h-1zM102 118h1v1h-1zM105 118h1v1h-1zM110 118h1v1h-1zM111 118h1v1h-1zM113 118h1v1h-1zM115 118h1v1h-1zM122 118h1v1h-1zM123 118h1v1h-1zM124 118h1v1h-1zM131 118h1v1h-1zM134 118h1v1h-1zM136 118h1v1h-1zM140 118h1v1h-1zM145 118h1v1h-1zM149 118h1v1h-1zM154 118h1v1h-1zM157 118h1v1h-1zM161 118h1v1h-1zM163 118h1v1h-1zM180 118h1v1h-1zM195 118h1v1h-1zM204 118h1v1h-1zM88 119h1v1h-1zM90 119h1v1h-1zM91 119h1v1h-1zM94 119h1v1h-1zM97 119h1v1h-1zM100 119h1v1h-1zM102 119h1v1h-1zM103 119h1v1h-1zM104 119h1v1h-1zM107 119h1v1h-1zM108 119h1v1h-1zM114 119h1v1h-1zM115 119h1v1h-1zM116 119h1v1h-1zM119 119h1v1h-1zM121 119h1v1h-1zM122 119h1v1h-1zM125 119h1v1h-1zM134 119h1v1h-1zM144 119h1v1h-1zM167 119h1v1h-1zM170 119h1v1h-1zM174 119h1v1h-1zM186 119h1v1h-1zM195 119h1v1h-1zM204 119h1v1h-1zM81 120h1v1h-1zM82 120h1v1h-1zM84 120h1v1h-1zM87 120h1v1h-1zM88 120h1v1h-1zM89 120h1v1h-1zM90 120h1v1h-1zM91 120h1v1h-1zM92 120h1v1h-1zM93 120h1v1h-1zM97 120h1v1h-1zM99 120h1v1h-1zM103 120h1v1h-1zM104 120h1v1h-1zM108 120h1v1h-1zM110 120h1v1h-1zM113 120h1v1h-1zM114 120h1v1h-1zM119 120h1v1h-1zM123 120h1v1h-1zM143 120h1v1h-1zM146 120h1v1h-1zM150 120h1v1h-1zM156 120h1v1h-1zM179 120h1v1h-1zM182 120h1v1h-1zM83 121h1v1h-1zM84 121h1v1h-1zM90 121h1v1h-1zM92 121h1v1h-1zM95 121h1v1h-1zM96 121h1v1h-1zM97 121h1v1h-1zM98 121h1v1h-1zM99 121h1v1h-1zM101 121h1v1h-1zM106 121h1v1h-1zM111 121h1v1h-1zM112 121h1v1h-1zM117 121h1v1h-1zM118 121h1v1h-1zM121 121h1v1h-1zM124 121h1v1h-1zM130 121h1v1h-1zM137 121h1v1h-1zM144 121h1v1h-1zM149 121h1v1h-1zM153 121h1v1h-1zM154 121h1v1h-1zM165 121h1v1h-1zM169 121h1v1h-1zM171 121h1v1h-1zM176 121h1v1h-1zM177 121h1v1h-1zM85 122h1v1h-1zM88 122h1v1h-1zM89 122h1v1h-1zM90 122h1v1h-1zM92 122h1v1h-1zM94 122h1v1h-1zM100 122h1v1h-1zM101 122h1v1h-1zM103 122h1v1h-1zM107 122h1v1h-1zM108 122h1v1h-1zM111 122h1v1h-1zM112 122h1v1h-1zM119 122h1v1h-1zM126 122h1v1h-1zM130 122h1v1h-1zM133 122h1v1h-1zM140 122h1v1h-1zM145 122h1v1h-1zM151 122h1v1h-1zM154 122h1v1h-1zM155 122h1v1h-1zM164 122h1v1h-1zM166 122h1v1h-1zM181 122h1v1h-1zM197 122h1v1h-1zM199 122h1v1h-1zM213 122h1v1h-1zM83 123h1v1h-1zM84 123h1v1h-1zM85 123h1v1h-1zM87 123h1v1h-1zM92 123h1v1h-1zM93 123h1v1h-1zM94 123h1v1h-1zM98 123h1v1h-1zM99 123h1v1h-1zM107 123h1v1h-1zM110 123h1v1h-1zM111 123h1v1h-1zM113 123h1v1h-1zM115 123h1v1h-1zM119 123h1v1h-1zM127 123h1v1h-1zM128 123h1v1h-1zM130 123h1v1h-1zM142 123h1v1h-1zM144 123h1v1h-1zM145 123h1v1h-1zM160 123h1v1h-1zM168 123h1v1h-1zM186 123h1v1h-1zM190 123h1v1h-1zM196 123h1v1h-1zM197 123h1v1h-1zM202 123h1v1h-1zM210 123h1v1h-1zM215 123h1v1h-1zM83 124h1v1h-1zM88 124h1v1h-1zM89 124h1v1h-1zM90 124h1v1h-1zM94 124h1v1h-1zM97 124h1v1h-1zM98 124h1v1h-1zM101 124h1v1h-1zM106 124h1v1h-1zM108 124h1v1h-1zM112 124h1v1h-1zM118 124h1v1h-1zM121 124h1v1h-1zM137 124h1v1h-1zM138 124h1v1h-1zM140 124h1v1h-1zM147 124h1v1h-1zM149 124h1v1h-1zM167 124h1v1h-1zM178 124h1v1h-1zM179 124h1v1h-1zM185 124h1v1h-1zM188 124h1v1h-1zM189 124h1v1h-1zM204 124h1v1h-1zM213 124h1v1h-1zM215 124h1v1h-1zM88 125h1v1h-1zM89 125h1v1h-1zM90 125h1v1h-1zM94 125h1v1h-1zM95 125h1v1h-1zM99 125h1v1h-1zM100 125h1v1h-1zM105 125h1v1h-1zM107 125h1v1h-1zM109 125h1v1h-1zM110 125h1v1h-1zM111 125h1v1h-1zM116 125h1v1h-1zM118 125h1v1h-1zM122 125h1v1h-1zM123 125h1v1h-1zM130 125h1v1h-1zM133 125h1v1h-1zM135 125h1v1h-1zM144 125h1v1h-1zM146 125h1v1h-1zM152 125h1v1h-1zM161 125h1v1h-1zM167 125h1v1h-1zM88 126h1v1h-1zM94 126h1v1h-1zM96 126h1v1h-1zM98 126h1v1h-1zM102 126h1v1h-1zM103 126h1v1h-1zM107 126h1v1h-1zM108 126h1v1h-1zM109 126h1v1h-1zM111 126h1v1h-1zM115 126h1v1h-1zM119 126h1v1h-1zM120 126h1v1h-1zM121 126h1v1h-1zM122 126h1v1h-1zM123 126h1v1h-1zM124 126h1v1h-1zM126 126h1v1h-1zM130 126h1v1h-1zM145 126h1v1h-1zM153 126h1v1h-1zM187 126h1v1h-1zM189 126h1v1h-1zM198 126h1v1h-1zM84 127h1v1h-1zM86 127h1v1h-1zM87 127h1v1h-1zM89 127h1v1h-1zM91 127h1v1h-1zM94 127h1v1h-1zM98 127h1v1h-1zM99 127h1v1h-1zM106 127h1v1h-1zM108 127h1v1h-1zM112 127h1v1h-1zM116 127h1v1h-1zM118 127h1v1h-1zM123 127h1v1h-1zM138 127h1v1h-1zM141 127h1v1h-1zM146 127h1v1h-1zM149 127h1v1h-1zM181 127h1v1h-1zM189 127h1v1h-1zM88 128h1v1h-1zM89 128h1v1h-1zM91 128h1v1h-1zM92 128h1v1h-1zM94 128h1v1h-1zM98 128h1v1h-1zM100 128h1v1h-1zM101 128h1v1h-1zM104 128h1v1h-1zM108 128h1v1h-1zM114 128h1v1h-1zM115 128h1v1h-1zM116 128h1v1h-1zM121 128h1v1h-1zM124 128h1v1h-1zM126 128h1v1h-1zM131 128h1v1h-1zM132 128h1v1h-1zM137 128h1v1h-1zM138 128h1v1h-1zM141 128h1v1h-1zM143 128h1v1h-1zM148 128h1v1h-1zM154 128h1v1h-1zM166 128h1v1h-1zM194 128h1v1h-1zM86 129h1v1h-1zM90 129h1v1h-1zM91 129h1v1h-1zM93 129h1v1h-1zM96 129h1v1h-1zM99 129h1v1h-1zM101 129h1v1h-1zM102 129h1v1h-1zM107 129h1v1h-1zM108 129h1v1h-1zM117 129h1v1h-1zM119 129h1v1h-1zM120 129h1v1h-1zM121 129h1v1h-1zM125 129h1v1h-1zM130 129h1v1h-1zM131 129h1v1h-1zM134 129h1v1h-1zM135 129h1v1h-1zM140 129h1v1h-1zM142 129h1v1h-1zM168 129h1v1h-1zM190 129h1v1h-1zM191 129h1v1h-1zM193 129h1v1h-1zM195 129h1v1h-1zM215 129h1v1h-1zM218 129h1v1h-1zM102 130h1v1h-1zM103 130h1v1h-1zM105 130h1v1h-1zM119 130h1v1h-1zM120 130h1v1h-1zM121 130h1v1h-1zM122 130h1v1h-1zM123 130h1v1h-1zM126 130h1v1h-1zM133 130h1v1h-1zM135 130h1v1h-1zM138 130h1v1h-1zM139 130h1v1h-1zM141 130h1v1h-1zM144 130h1v1h-1zM151 130h1v1h-1zM153 130h1v1h-1zM157 130h1v1h-1zM162 130h1v1h-1zM163 130h1v1h-1zM166 130h1v1h-1zM169 130h1v1h-1zM206 130h1v1h-1zM212 130h1v1h-1zM213 130h1v1h-1zM86 131h1v1h-1zM90 131h1v1h-1zM97 131h1v1h-1zM98 131h1v1h-1zM101 131h1v1h-1zM105 131h1v1h-1zM109 131h1v1h-1zM116 131h1v1h-1zM117 131h1v1h-1zM120 131h1v1h-1zM121 131h1v1h-1zM124 131h1v1h-1zM127 131h1v1h-1zM129 131h1v1h-1zM135 131h1v1h-1zM136 131h1v1h-1zM180 131h1v1h-1zM188 131h1v1h-1zM197 131h1v1h-1zM202 131h1v1h-1zM204 131h1v1h-1zM104 132h1v1h-1zM108 132h1v1h-1zM116 132h1v1h-1zM121 132h1v1h-1zM124 132h1v1h-1zM126 132h1v1h-1zM127 132h1v1h-1zM131 132h1v1h-1zM133 132h1v1h-1zM138 132h1v1h-1zM139 132h1v1h-1zM142 132h1v1h-1zM165 132h1v1h-1zM193 132h1v1h-1zM218 132h1v1h-1zM219 132h1v1h-1zM100 133h1v1h-1zM106 133h1v1h-1zM113 133h1v1h-1zM121 133h1v1h-1zM123 133h1v1h-1zM125 133h1v1h-1zM128 133h1v1h-1zM131 133h1v1h-1zM132 133h1v1h-1zM135 133h1v1h-1zM136 133h1v1h-1zM138 133h1v1h-1zM139 133h1v1h-1zM145 133h1v1h-1zM146 133h1v1h-1zM150 133h1v1h-1zM153 133h1v1h-1zM154 133h1v1h-1zM155 133h1v1h-1zM165 133h1v1h-1zM182 133h1v1h-1zM191 133h1v1h-1zM192 133h1v1h-1zM194 133h1v1h-1zM197 133h1v1h-1zM204 133h1v1h-1zM213 133h1v1h-1zM92 134h1v1h-1zM105 134h1v1h-1zM109 134h1v1h-1zM112 134h1v1h-1zM113 134h1v1h-1zM119 134h1v1h-1zM122 134h1v1h-1zM125 134h1v1h-1zM129 134h1v1h-1zM132 134h1v1h-1zM133 134h1v1h-1zM137 134h1v1h-1zM139 134h1v1h-1zM140 134h1v1h-1zM141 134h1v1h-1zM148 134h1v1h-1zM175 134h1v1h-1zM188 134h1v1h-1zM194 134h1v1h-1zM205 134h1v1h-1zM211 134h1v1h-1zM213 134h1v1h-1zM94 135h1v1h-1zM96 135h1v1h-1zM103 135h1v1h-1zM114 135h1v1h-1zM120 135h1v1h-1zM121 135h1v1h-1zM123 135h1v1h-1zM125 135h1v1h-1zM130 135h1v1h-1zM139 135h1v1h-1zM140 135h1v1h-1zM159 135h1v1h-1zM162 135h1v1h-1zM201 135h1v1h-1zM214 135h1v1h-1zM220 135h1v1h-1zM93 136h1v1h-1zM100 136h1v1h-1zM102 136h1v1h-1zM104 136h1v1h-1zM114 136h1v1h-1zM118 136h1v1h-1zM119 136h1v1h-1zM120 136h1v1h-1zM122 136h1v1h-1zM123 136h1v1h-1zM125 136h1v1h-1zM129 136h1v1h-1zM133 136h1v1h-1zM136 136h1v1h-1zM139 136h1v1h-1zM143 136h1v1h-1zM146 136h1v1h-1zM148 136h1v1h-1zM178 136h1v1h-1zM189 136h1v1h-1zM202 136h1v1h-1zM214 136h1v1h-1zM217 136h1v1h-1zM218 136h1v1h-1zM90 137h1v1h-1zM91 137h1v1h-1zM99 137h1v1h-1zM102 137h1v1h-1zM109 137h1v1h-1zM112 137h1v1h-1zM120 137h1v1h-1zM129 137h1v1h-1zM130 137h1v1h-1zM131 137h1v1h-1zM132 137h1v1h-1zM138 137h1v1h-1zM169 137h1v1h-1zM171 137h1v1h-1zM186 137h1v1h-1zM118 138h1v1h-1zM119 138h1v1h-1zM120 138h1v1h-1zM125 138h1v1h-1zM128 138h1v1h-1zM135 138h1v1h-1zM136 138h1v1h-1zM140 138h1v1h-1zM144 138h1v1h-1zM149 138h1v1h-1zM156 138h1v1h-1zM159 138h1v1h-1zM160 138h1v1h-1zM163 138h1v1h-1zM172 138h1v1h-1zM199 138h1v1h-1zM200 138h1v1h-1zM201 138h1v1h-1zM203 138h1v1h-1zM211 138h1v1h-1zM97 139h1v1h-1zM101 139h1v1h-1zM119 139h1v1h-1zM120 139h1v1h-1zM121 139h1v1h-1zM126 139h1v1h-1zM129 139h1v1h-1zM167 139h1v1h-1zM173 139h1v1h-1zM191 139h1v1h-1zM211 139h1v1h-1zM215 139h1v1h-1zM216 139h1v1h-1zM109 140h1v1h-1zM119 140h1v1h-1zM120 140h1v1h-1zM121 140h1v1h-1zM123 140h1v1h-1zM130 140h1v1h-1zM135 140h1v1h-1zM138 140h1v1h-1zM139 140h1v1h-1zM141 140h1v1h-1zM145 140h1v1h-1zM149 140h1v1h-1zM152 140h1v1h-1zM158 140h1v1h-1zM162 140h1v1h-1zM164 140h1v1h-1zM175 140h1v1h-1zM187 140h1v1h-1zM93 141h1v1h-1zM116 141h1v1h-1zM118 141h1v1h-1zM121 141h1v1h-1zM122 141h1v1h-1zM126 141h1v1h-1zM129 141h1v1h-1zM131 141h1v1h-1zM134 141h1v1h-1zM146 141h1v1h-1zM153 141h1v1h-1zM154 141h1v1h-1zM171 141h1v1h-1zM198 141h1v1h-1zM202 141h1v1h-1zM212 141h1v1h-1zM109 142h1v1h-1zM122 142h1v1h-1zM124 142h1v1h-1zM130 142h1v1h-1zM132 142h1v1h-1zM154 142h1v1h-1zM163 142h1v1h-1zM164 142h1v1h-1zM176 142h1v1h-1zM105 143h1v1h-1zM107 143h1v1h-1zM117 143h1v1h-1zM119 143h1v1h-1zM124 143h1v1h-1zM126 143h1v1h-1zM134 143h1v1h-1zM135 143h1v1h-1zM140 143h1v1h-1zM153 143h1v1h-1zM156 143h1v1h-1zM164 143h1v1h-1zM167 143h1v1h-1zM180 143h1v1h-1zM183 143h1v1h-1zM184 143h1v1h-1zM95 144h1v1h-1zM98 144h1v1h-1zM107 144h1v1h-1zM112 144h1v1h-1zM144 144h1v1h-1zM161 144h1v1h-1zM178 144h1v1h-1zM184 144h1v1h-1zM202 144h1v1h-1zM99 145h1v1h-1zM108 145h1v1h-1zM109 145h1v1h-1zM122 145h1v1h-1zM124 145h1v1h-1zM127 145h1v1h-1zM131 145h1v1h-1zM132 145h1v1h-1zM135 145h1v1h-1zM138 145h1v1h-1zM140 145h1v1h-1zM147 145h1v1h-1zM152 145h1v1h-1zM170 145h1v1h-1zM178 145h1v1h-1zM102 146h1v1h-1zM106 146h1v1h-1zM108 146h1v1h-1zM118 146h1v1h-1zM124 146h1v1h-1zM127 146h1v1h-1zM129 146h1v1h-1zM131 146h1v1h-1zM133 146h1v1h-1zM146 146h1v1h-1zM156 146h1v1h-1zM163 146h1v1h-1zM186 146h1v1h-1zM187 146h1v1h-1zM103 147h1v1h-1zM118 147h1v1h-1zM125 147h1v1h-1zM127 147h1v1h-1zM129 147h1v1h-1zM132 147h1v1h-1zM140 147h1v1h-1zM141 147h1v1h-1zM159 147h1v1h-1zM170 147h1v1h-1zM99 148h1v1h-1zM104 148h1v1h-1zM112 148h1v1h-1zM115 148h1v1h-1zM122 148h1v1h-1zM125 148h1v1h-1zM127 148h1v1h-1zM131 148h1v1h-1zM138 148h1v1h-1zM140 148h1v1h-1zM144 148h1v1h-1zM147 148h1v1h-1zM148 148h1v1h-1zM149 148h1v1h-1zM152 148h1v1h-1zM154 148h1v1h-1zM177 148h1v1h-1zM186 148h1v1h-1zM191 148h1v1h-1zM107 149h1v1h-1zM108 149h1v1h-1zM121 149h1v1h-1zM123 149h1v1h-1zM124 149h1v1h-1zM125 149h1v1h-1zM127 149h1v1h-1zM129 149h1v1h-1zM130 149h1v1h-1zM131 149h1v1h-1zM144 149h1v1h-1zM152 149h1v1h-1zM174 149h1v1h-1zM189 149h1v1h-1zM102 150h1v1h-1zM124 150h1v1h-1zM128 150h1v1h-1zM131 150h1v1h-1zM144 150h1v1h-1zM146 150h1v1h-1zM163 150h1v1h-1zM165 150h1v1h-1zM174 150h1v1h-1zM175 150h1v1h-1zM180 150h1v1h-1zM191 150h1v1h-1zM103 151h1v1h-1zM111 151h1v1h-1zM119 151h1v1h-1zM122 151h1v1h-1zM124 151h1v1h-1zM126 151h1v1h-1zM128 151h1v1h-1zM129 151h1v1h-1zM141 151h1v1h-1zM144 151h1v1h-1zM150 151h1v1h-1zM164 151h1v1h-1zM168 151h1v1h-1zM179 151h1v1h-1zM185 151h1v1h-1zM96 152h1v1h-1zM99 152h1v1h-1zM102 152h1v1h-1zM107 152h1v1h-1zM111 152h1v1h-1zM117 152h1v1h-1zM124 152h1v1h-1zM125 152h1v1h-1zM126 152h1v1h-1zM129 152h1v1h-1zM131 152h1v1h-1zM132 152h1v1h-1zM134 152h1v1h-1zM142 152h1v1h-1zM179 152h1v1h-1zM186 152h1v1h-1zM187 152h1v1h-1zM105 153h1v1h-1zM111 153h1v1h-1zM113 153h1v1h-1zM117 153h1v1h-1zM119 153h1v1h-1zM122 153h1v1h-1zM123 153h1v1h-1zM126 153h1v1h-1zM131 153h1v1h-1zM138 153h1v1h-1zM163 153h1v1h-1zM169 153h1v1h-1zM103 154h1v1h-1zM105 154h1v1h-1zM112 154h1v1h-1zM117 154h1v1h-1zM119 154h1v1h-1zM124 154h1v1h-1zM136 154h1v1h-1zM137 154h1v1h-1zM144 154h1v1h-1zM165 154h1v1h-1zM173 154h1v1h-1zM175 154h1v1h-1zM101 155h1v1h-1zM104 155h1v1h-1zM107 155h1v1h-1zM112 155h1v1h-1zM113 155h1v1h-1zM120 155h1v1h-1zM124 155h1v1h-1zM125 155h1v1h-1zM126 155h1v1h-1zM127 155h1v1h-1zM128 155h1v1h-1zM131 155h1v1h-1zM132 155h1v1h-1zM136 155h1v1h-1zM138 155h1v1h-1zM153 155h1v1h-1zM154 155h1v1h-1zM172 155h1v1h-1zM173 155h1v1h-1zM175 155h1v1h-1zM179 155h1v1h-1zM106 156h1v1h-1zM116 156h1v1h-1zM120 156h1v1h-1zM125 156h1v1h-1zM134 156h1v1h-1zM135 156h1v1h-1zM146 156h1v1h-1zM151 156h1v1h-1zM153 156h1v1h-1zM178 156h1v1h-1zM179 156h1v1h-1zM107 157h1v1h-1zM117 157h1v1h-1zM122 157h1v1h-1zM125 157h1v1h-1zM127 157h1v1h-1zM128 157h1v1h-1zM135 157h1v1h-1zM146 157h1v1h-1zM154 157h1v1h-1zM155 157h1v1h-1zM157 157h1v1h-1zM162 157h1v1h-1zM177 157h1v1h-1zM101 158h1v1h-1zM103 158h1v1h-1zM111 158h1v1h-1zM118 158h1v1h-1zM120 158h1v1h-1zM121 158h1v1h-1zM124 158h1v1h-1zM125 158h1v1h-1zM130 158h1v1h-1zM131 158h1v1h-1zM132 158h1v1h-1zM135 158h1v1h-1zM141 158h1v1h-1zM142 158h1v1h-1zM152 158h1v1h-1zM157 158h1v1h-1zM158 158h1v1h-1zM169 158h1v1h-1zM174 158h1v1h-1zM101 159h1v1h-1zM105 159h1v1h-1zM110 159h1v1h-1zM112 159h1v1h-1zM113 159h1v1h-1zM115 159h1v1h-1zM117 159h1v1h-1zM120 159h1v1h-1zM123 159h1v1h-1zM124 159h1v1h-1zM131 159h1v1h-1zM139 159h1v1h-1zM142 159h1v1h-1zM143 159h1v1h-1zM164 159h1v1h-1zM109 160h1v1h-1zM113 160h1v1h-1zM115 160h1v1h-1zM126 160h1v1h-1zM127 160h1v1h-1zM128 160h1v1h-1zM129 160h1v1h-1zM132 160h1v1h-1zM138 160h1v1h-1zM142 160h1v1h-1zM157 160h1v1h-1zM164 160h1v1h-1zM167 160h1v1h-1zM101 161h1v1h-1zM117 161h1v1h-1zM120 161h1v1h-1zM127 161h1v1h-1zM128 161h1v1h-1zM129 161h1v1h-1zM135 161h1v1h-1zM136 161h1v1h-1zM139 161h1v1h-1zM141 161h1v1h-1zM148 161h1v1h-1zM150 161h1v1h-1zM151 161h1v1h-1zM152 161h1v1h-1zM157 161h1v1h-1zM168 161h1v1h-1zM106 162h1v1h-1zM107 162h1v1h-1zM114 162h1v1h-1zM120 162h1v1h-1zM124 162h1v1h-1zM126 162h1v1h-1zM128 162h1v1h-1zM144 162h1v1h-1zM148 162h1v1h-1zM153 162h1v1h-1zM154 162h1v1h-1zM157 162h1v1h-1zM162 162h1v1h-1zM105 163h1v1h-1zM113 163h1v1h-1zM116 163h1v1h-1zM117 163h1v1h-1zM119 163h1v1h-1zM125 163h1v1h-1zM127 163h1v1h-1zM130 163h1v1h-1zM146 163h1v1h-1zM148 163h1v1h-1zM150 163h1v1h-1zM152 163h1v1h-1zM157 163h1v1h-1zM103 164h1v1h-1zM106 164h1v1h-1zM115 164h1v1h-1zM117 164h1v1h-1zM126 164h1v1h-1zM131 164h1v1h-1zM144 164h1v1h-1zM151 164h1v1h-1zM154 164h1v1h-1zM107 165h1v1h-1zM109 165h1v1h-1zM111 165h1v1h-1zM114 165h1v1h-1zM116 165h1v1h-1zM146 165h1v1h-1zM153 165h1v1h-1zM160 165h1v1h-1zM108 166h1v1h-1zM110 166h1v1h-1zM114 166h1v1h-1zM116 166h1v1h-1zM119 166h1v1h-1zM121 166h1v1h-1zM122 166h1v1h-1zM137 166h1v1h-1zM106 167h1v1h-1zM116 167h1v1h-1zM121 167h1v1h-1zM124 167h1v1h-1zM130 167h1v1h-1zM133 167h1v1h-1zM135 167h1v1h-1zM145 167h1v1h-1zM148 167h1v1h-1zM104 168h1v1h-1zM108 168h1v1h-1zM110 168h1v1h-1zM111 168h1v1h-1zM124 168h1v1h-1zM126 168h1v1h-1zM128 168h1v1h-1zM131 168h1v1h-1zM143 168h1v1h-1zM147 168h1v1h-1zM148 168h1v1h-1zM151 168h1v1h-1zM107 169h1v1h-1zM108 169h1v1h-1zM109 169h1v1h-1zM113 169h1v1h-1zM114 169h1v1h-1zM115 169h1v1h-1zM119 169h1v1h-1zM121 169h1v1h-1zM122 169h1v1h-1zM126 169h1v1h-1zM132 169h1v1h-1zM140 169h1v1h-1zM145 169h1v1h-1zM147 169h1v1h-1zM106 170h1v1h-1zM108 170h1v1h-1zM110 170h1v1h-1zM112 170h1v1h-1zM114 170h1v1h-1zM115 170h1v1h-1zM124 170h1v1h-1zM129 170h1v1h-1zM132 170h1v1h-1zM136 170h1v1h-1zM141 170h1v1h-1zM108 171h1v1h-1zM109 171h1v1h-1zM111 171h1v1h-1zM113 171h1v1h-1zM115 171h1v1h-1zM117 171h1v1h-1zM125 171h1v1h-1zM129 171h1v1h-1zM134 171h1v1h-1zM106 172h1v1h-1zM109 172h1v1h-1zM112 172h1v1h-1zM114 172h1v1h-1zM115 172h1v1h-1zM119 172h1v1h-1zM131 172h1v1h-1zM132 172h1v1h-1zM140 172h1v1h-1zM141 172h1v1h-1zM142 172h1v1h-1zM118 173h1v1h-1zM120 173h1v1h-1zM122 173h1v1h-1zM123 173h1v1h-1zM110 174h1v1h-1zM113 174h1v1h-1zM118 174h1v1h-1zM120 174h1v1h-1zM121 174h1v1h-1zM129 174h1v1h-1zM136 174h1v1h-1zM138 174h1v1h-1zM140 174h1v1h-1zM110 175h1v1h-1zM125 175h1v1h-1zM126 175h1v1h-1zM129 175h1v1h-1zM131 175h1v1h-1zM135 175h1v1h-1zM112 176h1v1h-1zM114 176h1v1h-1zM117 176h1v1h-1zM120 176h1v1h-1zM121 176h1v1h-1zM126 176h1v1h-1zM130 176h1v1h-1zM108 177h1v1h-1zM112 177h1v1h-1zM113 177h1v1h-1zM116 177h1v1h-1zM117 177h1v1h-1zM118 177h1v1h-1zM120 177h1v1h-1zM121 177h1v1h-1zM122 177h1v1h-1zM127 177h1v1h-1zM130 177h1v1h-1zM131 177h1v1h-1zM134 177h1v1h-1zM110 179h1v1h-1zM112 179h1v1h-1zM120 179h1v1h-1zM125 179h1v1h-1zM114 180h1v1h-1zM119 180h1v1h-1zM112 181h1v1h-1zM121 181h1v1h-1zM111 182h1v1h-1zM122 182h1v1h-1zM116 183h1v1h-1zM115 186h1v1h-1z" fill="#f4f4f4" filter="url(#sb)"/>
</g>
</defs>
<g id="panel-a">
<clipPath id="clip-a"><polygon points="170.3,30.7 64.3,80.4 113.7,185.2 219.6,136.1"/></clipPath>
<polygon points="170.3,30.7 64.3,80.4 113.7,185.2 219.6,136.1" fill="#c9c9c9"/>
<g clip-path="url(#clip-a)"><use href="#trees" x="0" y="0"/></g>
<g fill="#fff" opacity="0.2">
<circle cx="74.9" cy="85.3" r="6.9"/><circle cx="88.4" cy="78.4" r="6.9"/><circle cx="84.8" cy="93.5" r="6.9"/><circle cx="100.8" cy="83.3" r="6.9"/><circle cx="95.3" cy="101" r="6.9"/><circle cx="107.6" cy="96.6" r="6.9"/><circle cx="110.7" cy="72.9" r="6.9"/><circle cx="116.3" cy="87.8" r="6.9"/><circle cx="125.4" cy="75.4" r="6.9"/><circle cx="127.2" cy="59.4" r="6.9"/><circle cx="131.3" cy="89.8" r="6.9"/><circle cx="138.8" cy="68.3" r="6.9"/><circle cx="144.7" cy="52" r="6.9"/><circle cx="145.6" cy="81.7" r="6.9"/><circle cx="163.6" cy="43.3" r="6.9"/><circle cx="157.3" cy="53.5" r="6.9"/><circle cx="171" cy="52.8" r="6.9"/><circle cx="157.3" cy="68.3" r="6.9"/><circle cx="173.3" cy="67.7" r="6.9"/><circle cx="163.4" cy="83.7" r="6.9"/><circle cx="175.1" cy="79.5" r="6.9"/><circle cx="186.5" cy="87" r="6.9"/><circle cx="151.5" cy="94.5" r="6.9"/><circle cx="170" cy="97.4" r="6.9"/><circle cx="184.1" cy="99.7" r="6.9"/><circle cx="142" cy="104.8" r="6.9"/><circle cx="157" cy="104.5" r="6.9"/><circle cx="197.4" cy="104.7" r="6.9"/><circle cx="127.2" cy="107.1" r="6.9"/><circle cx="90.6" cy="119.4" r="6.9"/><circle cx="109.1" cy="118.5" r="6.9"/><circle cx="138.6" cy="116.1" r="6.9"/><circle cx="125.7" cy="125.6" r="6.9"/><circle cx="104.9" cy="136.3" r="6.9"/><circle cx="120" cy="136.6" r="6.9"/><circle cx="138.5" cy="134.6" r="6.9"/><circle cx="108.3" cy="147.6" r="6.9"/><circle cx="123.6" cy="149.2" r="6.9"/><circle cx="139.2" cy="152.8" r="6.9"/><circle cx="149" cy="142.7" r="6.9"/><circle cx="129.4" cy="160.3" r="6.9"/><circle cx="112.8" cy="164.4" r="6.9"/><circle cx="145.6" cy="162.7" r="6.9"/><circle cx="152.8" cy="120.1" r="6.9"/><circle cx="175.5" cy="116.8" r="6.9"/><circle cx="188.2" cy="115.1" r="6.9"/><circle cx="204.4" cy="121.1" r="6.9"/><circle cx="187.5" cy="127.2" r="6.9"/><circle cx="175.1" cy="131" r="6.9"/><circle cx="163.9" cy="135.5" r="6.9"/><circle cx="196.4" cy="138.8" r="6.9"/><circle cx="178.4" cy="146" r="6.9"/><circle cx="167.3" cy="152.2" r="6.9"/><circle cx="155.4" cy="156.6" r="6.9"/><circle cx="124.5" cy="171.4" r="6.9"/>
</g>
<g fill="none" stroke="#e9364a" stroke-width="1.15">
<circle cx="74.9" cy="85.3" r="6.9"/><circle cx="88.4" cy="78.4" r="6.9"/><circle cx="84.8" cy="93.5" r="6.9"/><circle cx="100.8" cy="83.3" r="6.9"/><circle cx="95.3" cy="101" r="6.9"/><circle cx="107.6" cy="96.6" r="6.9"/><circle cx="110.7" cy="72.9" r="6.9"/><circle cx="116.3" cy="87.8" r="6.9"/><circle cx="125.4" cy="75.4" r="6.9"/><circle cx="127.2" cy="59.4" r="6.9"/><circle cx="131.3" cy="89.8" r="6.9"/><circle cx="138.8" cy="68.3" r="6.9"/><circle cx="144.7" cy="52" r="6.9"/><circle cx="145.6" cy="81.7" r="6.9"/><circle cx="163.6" cy="43.3" r="6.9"/><circle cx="157.3" cy="53.5" r="6.9"/><circle cx="171" cy="52.8" r="6.9"/><circle cx="157.3" cy="68.3" r="6.9"/><circle cx="173.3" cy="67.7" r="6.9"/><circle cx="163.4" cy="83.7" r="6.9"/><circle cx="175.1" cy="79.5" r="6.9"/><circle cx="186.5" cy="87" r="6.9"/><circle cx="151.5" cy="94.5" r="6.9"/><circle cx="170" cy="97.4" r="6.9"/><circle cx="184.1" cy="99.7" r="6.9"/><circle cx="142" cy="104.8" r="6.9"/><circle cx="157" cy="104.5" r="6.9"/><circle cx="197.4" cy="104.7" r="6.9"/><circle cx="127.2" cy="107.1" r="6.9"/><circle cx="90.6" cy="119.4" r="6.9"/><circle cx="109.1" cy="118.5" r="6.9"/><circle cx="138.6" cy="116.1" r="6.9"/><circle cx="125.7" cy="125.6" r="6.9"/><circle cx="104.9" cy="136.3" r="6.9"/><circle cx="120" cy="136.6" r="6.9"/><circle cx="138.5" cy="134.6" r="6.9"/><circle cx="108.3" cy="147.6" r="6.9"/><circle cx="123.6" cy="149.2" r="6.9"/><circle cx="139.2" cy="152.8" r="6.9"/><circle cx="149" cy="142.7" r="6.9"/><circle cx="129.4" cy="160.3" r="6.9"/><circle cx="112.8" cy="164.4" r="6.9"/><circle cx="145.6" cy="162.7" r="6.9"/><circle cx="152.8" cy="120.1" r="6.9"/><circle cx="175.5" cy="116.8" r="6.9"/><circle cx="188.2" cy="115.1" r="6.9"/><circle cx="204.4" cy="121.1" r="6.9"/><circle cx="187.5" cy="127.2" r="6.9"/><circle cx="175.1" cy="131" r="6.9"/><circle cx="163.9" cy="135.5" r="6.9"/><circle cx="196.4" cy="138.8" r="6.9"/><circle cx="178.4" cy="146" r="6.9"/><circle cx="167.3" cy="152.2" r="6.9"/><circle cx="155.4" cy="156.6" r="6.9"/><circle cx="124.5" cy="171.4" r="6.9"/>
</g>
<path d="M72.3 85.3h5.2M74.9 82.7v5.2M85.8 78.4h5.2M88.4 75.8v5.2M82.2 93.5h5.2M84.8 90.9v5.2M98.2 83.3h5.2M100.8 80.7v5.2M92.7 101h5.2M95.3 98.4v5.2M105 96.6h5.2M107.6 94v5.2M108.1 72.9h5.2M110.7 70.3v5.2M113.7 87.8h5.2M116.3 85.2v5.2M122.8 75.4h5.2M125.4 72.8v5.2M124.6 59.4h5.2M127.2 56.8v5.2M128.7 89.8h5.2M131.3 87.2v5.2M136.2 68.3h5.2M138.8 65.7v5.2M142.1 52h5.2M144.7 49.4v5.2M143 81.7h5.2M145.6 79.1v5.2M161 43.3h5.2M163.6 40.7v5.2M154.7 53.5h5.2M157.3 50.9v5.2M168.4 52.8h5.2M171 50.2v5.2M154.7 68.3h5.2M157.3 65.7v5.2M170.7 67.7h5.2M173.3 65.1v5.2M160.8 83.7h5.2M163.4 81.1v5.2M172.5 79.5h5.2M175.1 76.9v5.2M183.9 87h5.2M186.5 84.4v5.2M148.9 94.5h5.2M151.5 91.9v5.2M167.4 97.4h5.2M170 94.8v5.2M181.5 99.7h5.2M184.1 97.1v5.2M139.4 104.8h5.2M142 102.2v5.2M154.4 104.5h5.2M157 101.9v5.2M194.8 104.7h5.2M197.4 102.1v5.2M124.6 107.1h5.2M127.2 104.5v5.2M88 119.4h5.2M90.6 116.8v5.2M106.5 118.5h5.2M109.1 115.9v5.2M136 116.1h5.2M138.6 113.5v5.2M123.1 125.6h5.2M125.7 123v5.2M102.3 136.3h5.2M104.9 133.7v5.2M117.4 136.6h5.2M120 134v5.2M135.9 134.6h5.2M138.5 132v5.2M105.7 147.6h5.2M108.3 145v5.2M121 149.2h5.2M123.6 146.6v5.2M136.6 152.8h5.2M139.2 150.2v5.2M146.4 142.7h5.2M149 140.1v5.2M126.8 160.3h5.2M129.4 157.7v5.2M110.2 164.4h5.2M112.8 161.8v5.2M143 162.7h5.2M145.6 160.1v5.2M150.2 120.1h5.2M152.8 117.5v5.2M172.9 116.8h5.2M175.5 114.2v5.2M185.6 115.1h5.2M188.2 112.5v5.2M201.8 121.1h5.2M204.4 118.5v5.2M184.9 127.2h5.2M187.5 124.6v5.2M172.5 131h5.2M175.1 128.4v5.2M161.3 135.5h5.2M163.9 132.9v5.2M193.8 138.8h5.2M196.4 136.2v5.2M175.8 146h5.2M178.4 143.4v5.2M164.7 152.2h5.2M167.3 149.6v5.2M152.8 156.6h5.2M155.4 154v5.2M121.9 171.4h5.2M124.5 168.8v5.2" stroke="#2c3036" stroke-width="1" fill="none"/>
<polygon points="170.3,30.7 64.3,80.4 113.7,185.2 219.6,136.1" fill="none" stroke="#111" stroke-width="1.1"/>
<rect x="24.3" y="27.5" width="231.5" height="158.1" fill="none" stroke="#111" stroke-width="1.2"/>
<path d="M50.9 185.6v5M88.9 185.6v5M126.9 185.6v5M164.9 185.6v5M202.9 185.6v5M240.9 185.6v5M24.3 46h-5M24.3 84h-5M24.3 122.1h-5M24.3 160.1h-5" stroke="#222" stroke-width="0.7" fill="none"/>
<text class="ax" x="50.9" y="202.6" text-anchor="middle">594500</text><text class="ax" x="88.9" y="202.6" text-anchor="middle">594600</text><text class="ax" x="126.9" y="202.6" text-anchor="middle">594700</text><text class="ax" x="164.9" y="202.6" text-anchor="middle">594800</text><text class="ax" x="202.9" y="202.6" text-anchor="middle">594900</text><text class="ax" x="240.9" y="202.6" text-anchor="middle">595000</text>
<text class="ay" transform="translate(13.2 46) rotate(-90)" text-anchor="middle">9605400</text><text class="ay" transform="translate(13.2 84) rotate(-90)" text-anchor="middle">9605300</text><text class="ay" transform="translate(13.2 122.1) rotate(-90)" text-anchor="middle">9605200</text><text class="ay" transform="translate(13.2 160.1) rotate(-90)" text-anchor="middle">9605100</text>
<text class="ta" x="24.8" y="13">a) Training samples, min dist ~30m</text>
</g>
<g id="panel-b">
<clipPath id="clip-b"><polygon points="459.8,30.7 353.8,80.4 403.2,185.2 509.1,136.1"/></clipPath>
<polygon points="459.8,30.7 353.8,80.4 403.2,185.2 509.1,136.1" fill="#c3c3c3"/>
<g clip-path="url(#clip-b)"><use href="#trees" x="290" y="0"/></g>
<g fill="#fff" opacity="0.08">
<circle cx="392.4" cy="76.2" r="6.9"/><circle cx="406.1" cy="69.3" r="6.9"/><circle cx="412.2" cy="83.3" r="6.9"/><circle cx="389.3" cy="94.6" r="6.9"/><circle cx="431.7" cy="53.4" r="6.9"/><circle cx="445.1" cy="49.8" r="6.9"/><circle cx="460.5" cy="49.4" r="6.9"/><circle cx="465.1" cy="68.8" r="6.9"/><circle cx="432.9" cy="97" r="6.9"/><circle cx="447.7" cy="97" r="6.9"/><circle cx="428.1" cy="115.9" r="6.9"/><circle cx="450.5" cy="116.6" r="6.9"/><circle cx="394.6" cy="136.2" r="6.9"/><circle cx="427.5" cy="149.4" r="6.9"/><circle cx="409.9" cy="155.3" r="6.9"/><circle cx="416.2" cy="169.7" r="6.9"/><circle cx="490.3" cy="122.2" r="6.9"/><circle cx="483.2" cy="135.2" r="6.9"/><circle cx="461.2" cy="137.5" r="6.9"/><circle cx="442.4" cy="142.1" r="6.9"/>
</g>
<g fill="none" stroke="#e9364a" stroke-width="1.05">
<circle cx="392.4" cy="76.2" r="6.9"/><circle cx="406.1" cy="69.3" r="6.9"/><circle cx="412.2" cy="83.3" r="6.9"/><circle cx="389.3" cy="94.6" r="6.9"/><circle cx="431.7" cy="53.4" r="6.9"/><circle cx="445.1" cy="49.8" r="6.9"/><circle cx="460.5" cy="49.4" r="6.9"/><circle cx="465.1" cy="68.8" r="6.9"/><circle cx="432.9" cy="97" r="6.9"/><circle cx="447.7" cy="97" r="6.9"/><circle cx="428.1" cy="115.9" r="6.9"/><circle cx="450.5" cy="116.6" r="6.9"/><circle cx="394.6" cy="136.2" r="6.9"/><circle cx="427.5" cy="149.4" r="6.9"/><circle cx="409.9" cy="155.3" r="6.9"/><circle cx="416.2" cy="169.7" r="6.9"/><circle cx="490.3" cy="122.2" r="6.9"/><circle cx="483.2" cy="135.2" r="6.9"/><circle cx="461.2" cy="137.5" r="6.9"/><circle cx="442.4" cy="142.1" r="6.9"/>
</g>
<path d="M389.8 76.2h5.2M392.4 73.6v5.2M403.5 69.3h5.2M406.1 66.7v5.2M409.6 83.3h5.2M412.2 80.7v5.2M386.7 94.6h5.2M389.3 92v5.2M429.1 53.4h5.2M431.7 50.8v5.2M442.5 49.8h5.2M445.1 47.2v5.2M457.9 49.4h5.2M460.5 46.8v5.2M462.5 68.8h5.2M465.1 66.2v5.2M430.3 97h5.2M432.9 94.4v5.2M445.1 97h5.2M447.7 94.4v5.2M425.5 115.9h5.2M428.1 113.3v5.2M447.9 116.6h5.2M450.5 114v5.2M392 136.2h5.2M394.6 133.6v5.2M424.9 149.4h5.2M427.5 146.8v5.2M407.3 155.3h5.2M409.9 152.7v5.2M413.6 169.7h5.2M416.2 167.1v5.2M487.7 122.2h5.2M490.3 119.6v5.2M480.6 135.2h5.2M483.2 132.6v5.2M458.6 137.5h5.2M461.2 134.9v5.2M439.8 142.1h5.2M442.4 139.5v5.2" stroke="#2c3036" stroke-width="1" fill="none"/>
<polygon points="459.8,30.7 353.8,80.4 403.2,185.2 509.1,136.1" fill="none" stroke="#111" stroke-width="1.1"/>
<rect x="313.8" y="27.5" width="231.5" height="158.1" fill="none" stroke="#111" stroke-width="1.2"/>
<path d="M340.4 185.6v5M378.4 185.6v5M416.4 185.6v5M454.4 185.6v5M492.4 185.6v5M530.4 185.6v5M313.8 46h-5M313.8 84h-5M313.8 122.1h-5M313.8 160.1h-5" stroke="#222" stroke-width="0.7" fill="none"/>
<text class="ax" x="340.4" y="202.6" text-anchor="middle">594500</text><text class="ax" x="378.4" y="202.6" text-anchor="middle">594600</text><text class="ax" x="416.4" y="202.6" text-anchor="middle">594700</text><text class="ax" x="454.4" y="202.6" text-anchor="middle">594800</text><text class="ax" x="492.4" y="202.6" text-anchor="middle">594900</text><text class="ax" x="530.4" y="202.6" text-anchor="middle">595000</text>
<text class="ay" transform="translate(302.7 46) rotate(-90)" text-anchor="middle">9605400</text><text class="ay" transform="translate(302.7 84) rotate(-90)" text-anchor="middle">9605300</text><text class="ay" transform="translate(302.7 122.1) rotate(-90)" text-anchor="middle">9605200</text><text class="ay" transform="translate(302.7 160.1) rotate(-90)" text-anchor="middle">9605100</text>
<text class="tt" x="314" y="12.7" textLength="94" lengthAdjust="spacingAndGlyphs">b) Validation set 1</text>
</g>
<g id="panel-c">
<clipPath id="clip-c"><polygon points="170.3,275.3 64.3,325 113.7,429.8 219.6,380.7"/></clipPath>
<polygon points="170.3,275.3 64.3,325 113.7,429.8 219.6,380.7" fill="#c3c3c3"/>
<g clip-path="url(#clip-c)"><use href="#trees" x="0" y="245"/></g>
<g fill="#fff" opacity="0.08">
<circle cx="92.5" cy="319.2" r="6.9"/><circle cx="96" cy="335.7" r="6.9"/><circle cx="121.4" cy="322.5" r="6.9"/><circle cx="138.7" cy="312.9" r="6.9"/><circle cx="164.5" cy="314" r="6.9"/><circle cx="155.1" cy="334.9" r="6.9"/><circle cx="169.5" cy="345" r="6.9"/><circle cx="191.8" cy="346.5" r="6.9"/><circle cx="188.2" cy="359.8" r="6.9"/><circle cx="148.8" cy="365" r="6.9"/><circle cx="201" cy="366.5" r="6.9"/><circle cx="93.3" cy="356.3" r="6.9"/><circle cx="112.1" cy="365.1" r="6.9"/><circle cx="134.5" cy="380.4" r="6.9"/><circle cx="112.1" cy="394.4" r="6.9"/><circle cx="139.2" cy="397.1" r="6.9"/><circle cx="115.3" cy="413.3" r="6.9"/><circle cx="168.7" cy="374.5" r="6.9"/><circle cx="160.8" cy="394.8" r="6.9"/><circle cx="174.4" cy="390.9" r="6.9"/>
</g>
<g fill="none" stroke="#e9364a" stroke-width="1.05">
<circle cx="92.5" cy="319.2" r="6.9"/><circle cx="96" cy="335.7" r="6.9"/><circle cx="121.4" cy="322.5" r="6.9"/><circle cx="138.7" cy="312.9" r="6.9"/><circle cx="164.5" cy="314" r="6.9"/><circle cx="155.1" cy="334.9" r="6.9"/><circle cx="169.5" cy="345" r="6.9"/><circle cx="191.8" cy="346.5" r="6.9"/><circle cx="188.2" cy="359.8" r="6.9"/><circle cx="148.8" cy="365" r="6.9"/><circle cx="201" cy="366.5" r="6.9"/><circle cx="93.3" cy="356.3" r="6.9"/><circle cx="112.1" cy="365.1" r="6.9"/><circle cx="134.5" cy="380.4" r="6.9"/><circle cx="112.1" cy="394.4" r="6.9"/><circle cx="139.2" cy="397.1" r="6.9"/><circle cx="115.3" cy="413.3" r="6.9"/><circle cx="168.7" cy="374.5" r="6.9"/><circle cx="160.8" cy="394.8" r="6.9"/><circle cx="174.4" cy="390.9" r="6.9"/>
</g>
<path d="M89.9 319.2h5.2M92.5 316.6v5.2M93.4 335.7h5.2M96 333.1v5.2M118.8 322.5h5.2M121.4 319.9v5.2M136.1 312.9h5.2M138.7 310.3v5.2M161.9 314h5.2M164.5 311.4v5.2M152.5 334.9h5.2M155.1 332.3v5.2M166.9 345h5.2M169.5 342.4v5.2M189.2 346.5h5.2M191.8 343.9v5.2M185.6 359.8h5.2M188.2 357.2v5.2M146.2 365h5.2M148.8 362.4v5.2M198.4 366.5h5.2M201 363.9v5.2M90.7 356.3h5.2M93.3 353.7v5.2M109.5 365.1h5.2M112.1 362.5v5.2M131.9 380.4h5.2M134.5 377.8v5.2M109.5 394.4h5.2M112.1 391.8v5.2M136.6 397.1h5.2M139.2 394.5v5.2M112.7 413.3h5.2M115.3 410.7v5.2M166.1 374.5h5.2M168.7 371.9v5.2M158.2 394.8h5.2M160.8 392.2v5.2M171.8 390.9h5.2M174.4 388.3v5.2" stroke="#2c3036" stroke-width="1" fill="none"/>
<polygon points="170.3,275.3 64.3,325 113.7,429.8 219.6,380.7" fill="none" stroke="#111" stroke-width="1.1"/>
<rect x="24.3" y="272.1" width="231.5" height="158.1" fill="none" stroke="#111" stroke-width="1.2"/>
<path d="M50.9 430.2v5M88.9 430.2v5M126.9 430.2v5M164.9 430.2v5M202.9 430.2v5M240.9 430.2v5M24.3 290.6h-5M24.3 328.6h-5M24.3 366.7h-5M24.3 404.8h-5" stroke="#222" stroke-width="0.7" fill="none"/>
<text class="ax" x="50.9" y="447.2" text-anchor="middle">594500</text><text class="ax" x="88.9" y="447.2" text-anchor="middle">594600</text><text class="ax" x="126.9" y="447.2" text-anchor="middle">594700</text><text class="ax" x="164.9" y="447.2" text-anchor="middle">594800</text><text class="ax" x="202.9" y="447.2" text-anchor="middle">594900</text><text class="ax" x="240.9" y="447.2" text-anchor="middle">595000</text>
<text class="ay" transform="translate(13.2 290.6) rotate(-90)" text-anchor="middle">9605400</text><text class="ay" transform="translate(13.2 328.6) rotate(-90)" text-anchor="middle">9605300</text><text class="ay" transform="translate(13.2 366.7) rotate(-90)" text-anchor="middle">9605200</text><text class="ay" transform="translate(13.2 404.8) rotate(-90)" text-anchor="middle">9605100</text>
<text class="tt" x="24.5" y="257.7" textLength="94" lengthAdjust="spacingAndGlyphs">c) Validation set 2</text>
</g>
<g id="panel-d">
<clipPath id="clip-d"><polygon points="459.8,275.3 353.8,325 403.2,429.8 509.1,380.7"/></clipPath>
<polygon points="459.8,275.3 353.8,325 403.2,429.8 509.1,380.7" fill="#c3c3c3"/>
<g clip-path="url(#clip-d)"><use href="#trees" x="290" y="245"/></g>
<g fill="#fff" opacity="0.08">
<circle cx="395.9" cy="321.9" r="6.9"/><circle cx="411.3" cy="316.9" r="6.9"/><circle cx="409.5" cy="333.2" r="6.9"/><circle cx="422.4" cy="339.7" r="6.9"/><circle cx="403.6" cy="347.4" r="6.9"/><circle cx="428.2" cy="360.5" r="6.9"/><circle cx="456.8" cy="293.4" r="6.9"/><circle cx="446.6" cy="312.9" r="6.9"/><circle cx="448.4" cy="339.5" r="6.9"/><circle cx="462.7" cy="357.5" r="6.9"/><circle cx="481.5" cy="357.6" r="6.9"/><circle cx="449.7" cy="364.7" r="6.9"/><circle cx="416.6" cy="377.7" r="6.9"/><circle cx="430.2" cy="382.5" r="6.9"/><circle cx="401.1" cy="390.9" r="6.9"/><circle cx="427.6" cy="405.3" r="6.9"/><circle cx="412.4" cy="412.6" r="6.9"/><circle cx="477.7" cy="371" r="6.9"/><circle cx="494.5" cy="376.6" r="6.9"/><circle cx="449.5" cy="390.6" r="6.9"/>
</g>
<g fill="none" stroke="#e9364a" stroke-width="1.05">
<circle cx="395.9" cy="321.9" r="6.9"/><circle cx="411.3" cy="316.9" r="6.9"/><circle cx="409.5" cy="333.2" r="6.9"/><circle cx="422.4" cy="339.7" r="6.9"/><circle cx="403.6" cy="347.4" r="6.9"/><circle cx="428.2" cy="360.5" r="6.9"/><circle cx="456.8" cy="293.4" r="6.9"/><circle cx="446.6" cy="312.9" r="6.9"/><circle cx="448.4" cy="339.5" r="6.9"/><circle cx="462.7" cy="357.5" r="6.9"/><circle cx="481.5" cy="357.6" r="6.9"/><circle cx="449.7" cy="364.7" r="6.9"/><circle cx="416.6" cy="377.7" r="6.9"/><circle cx="430.2" cy="382.5" r="6.9"/><circle cx="401.1" cy="390.9" r="6.9"/><circle cx="427.6" cy="405.3" r="6.9"/><circle cx="412.4" cy="412.6" r="6.9"/><circle cx="477.7" cy="371" r="6.9"/><circle cx="494.5" cy="376.6" r="6.9"/><circle cx="449.5" cy="390.6" r="6.9"/>
</g>
<path d="M393.3 321.9h5.2M395.9 319.3v5.2M408.7 316.9h5.2M411.3 314.3v5.2M406.9 333.2h5.2M409.5 330.6v5.2M419.8 339.7h5.2M422.4 337.1v5.2M401 347.4h5.2M403.6 344.8v5.2M425.6 360.5h5.2M428.2 357.9v5.2M454.2 293.4h5.2M456.8 290.8v5.2M444 312.9h5.2M446.6 310.3v5.2M445.8 339.5h5.2M448.4 336.9v5.2M460.1 357.5h5.2M462.7 354.9v5.2M478.9 357.6h5.2M481.5 355v5.2M447.1 364.7h5.2M449.7 362.1v5.2M414 377.7h5.2M416.6 375.1v5.2M427.6 382.5h5.2M430.2 379.9v5.2M398.5 390.9h5.2M401.1 388.3v5.2M425 405.3h5.2M427.6 402.7v5.2M409.8 412.6h5.2M412.4 410v5.2M475.1 371h5.2M477.7 368.4v5.2M491.9 376.6h5.2M494.5 374v5.2M446.9 390.6h5.2M449.5 388v5.2" stroke="#2c3036" stroke-width="1" fill="none"/>
<polygon points="459.8,275.3 353.8,325 403.2,429.8 509.1,380.7" fill="none" stroke="#111" stroke-width="1.1"/>
<rect x="313.8" y="272.1" width="231.5" height="158.1" fill="none" stroke="#111" stroke-width="1.2"/>
<path d="M340.4 430.2v5M378.4 430.2v5M416.4 430.2v5M454.4 430.2v5M492.4 430.2v5M530.4 430.2v5M313.8 290.6h-5M313.8 328.6h-5M313.8 366.7h-5M313.8 404.8h-5" stroke="#222" stroke-width="0.7" fill="none"/>
<text class="ax" x="340.4" y="447.2" text-anchor="middle">594500</text><text class="ax" x="378.4" y="447.2" text-anchor="middle">594600</text><text class="ax" x="416.4" y="447.2" text-anchor="middle">594700</text><text class="ax" x="454.4" y="447.2" text-anchor="middle">594800</text><text class="ax" x="492.4" y="447.2" text-anchor="middle">594900</text><text class="ax" x="530.4" y="447.2" text-anchor="middle">595000</text>
<text class="ay" transform="translate(302.7 290.6) rotate(-90)" text-anchor="middle">9605400</text><text class="ay" transform="translate(302.7 328.6) rotate(-90)" text-anchor="middle">9605300</text><text class="ay" transform="translate(302.7 366.7) rotate(-90)" text-anchor="middle">9605200</text><text class="ay" transform="translate(302.7 404.8) rotate(-90)" text-anchor="middle">9605100</text>
<text class="tt" x="314" y="257.7" textLength="94" lengthAdjust="spacingAndGlyphs">d) Validation set 3</text>
</g>
<g id="legend-a">
<path d="M30.6 38.9h4.2M32.7 36.8v4.2" stroke="#c4c4c4" stroke-width="0.9" fill="none"/>
<path d="M30.6 50.2h4.2M32.7 48.1v4.2" stroke="#2b2b2b" stroke-width="0.9" fill="none"/>
<text class="lg" x="42.1" y="41.9">Tree location</text>
<text class="lg" x="42.1" y="53.2">Plot center</text>
</g>
<g id="north">
<polygon points="240.6,32.9 249.8,51.1 240.6,42.5" fill="#111" stroke="#111" stroke-width="0.5"/>
<polygon points="240.6,32.9 231.3,51.1 240.6,42.5" fill="#fff" stroke="#111" stroke-width="0.7"/>
<text x="240.6" y="53.2" font-size="4.8" font-weight="bold" text-anchor="middle" fill="#333">N</text>
</g>
<g id="scalebar">
<rect x="196" y="175.3" width="54.4" height="5.9" fill="#000"/>
<rect x="214.2" y="176" width="18.1" height="4.5" fill="#fff"/>
<text x="191.5" y="180.7" font-size="6.2" text-anchor="end" fill="#222">60 m</text>
</g>
<g id="legend-b">
<path d="M321.5 38.5H339.4" stroke="#e9364a" stroke-width="0.95"/>
<text class="lg" x="348" y="42">Plot boundary</text>
</g>
</svg>
</body></html>
